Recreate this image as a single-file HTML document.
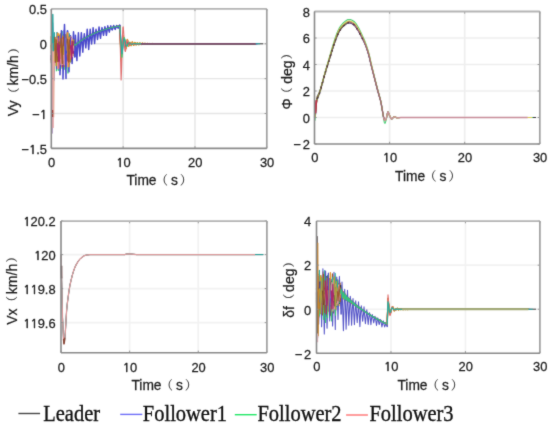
<!DOCTYPE html>
<html><head><meta charset="utf-8"><title>Vehicle platoon response</title>
<style>html,body{margin:0;padding:0;background:#fff;overflow:hidden;} svg{display:block;}</style>
</head><body>
<svg width="550" height="428" viewBox="0 0 550 428"><defs><filter id="soft" x="0" y="0" width="1" height="1" color-interpolation-filters="sRGB"><feConvolveMatrix order="3" kernelMatrix="0.02 0.08 0.02 0.08 0.6 0.08 0.02 0.08 0.02" edgeMode="duplicate"/></filter></defs><g filter="url(#soft)"><rect width="550" height="428" fill="#ffffff"/>
<line x1="123.13" y1="8.95" x2="123.13" y2="148.35" stroke="#e5e5e5" stroke-width="1.4"/>
<line x1="194.97" y1="8.95" x2="194.97" y2="148.35" stroke="#e5e5e5" stroke-width="1.4"/>
<line x1="51.30" y1="113.50" x2="266.80" y2="113.50" stroke="#e5e5e5" stroke-width="1.4"/>
<line x1="51.30" y1="78.65" x2="266.80" y2="78.65" stroke="#e5e5e5" stroke-width="1.4"/>
<line x1="51.30" y1="43.80" x2="266.80" y2="43.80" stroke="#e5e5e5" stroke-width="1.4"/>
<line x1="389.60" y1="11.50" x2="389.60" y2="144.00" stroke="#eeeeee" stroke-width="1.7"/>
<line x1="464.70" y1="11.50" x2="464.70" y2="144.00" stroke="#eeeeee" stroke-width="1.7"/>
<line x1="314.50" y1="117.50" x2="539.80" y2="117.50" stroke="#eeeeee" stroke-width="1.7"/>
<line x1="314.50" y1="91.00" x2="539.80" y2="91.00" stroke="#eeeeee" stroke-width="1.7"/>
<line x1="314.50" y1="64.50" x2="539.80" y2="64.50" stroke="#eeeeee" stroke-width="1.7"/>
<line x1="314.50" y1="38.00" x2="539.80" y2="38.00" stroke="#eeeeee" stroke-width="1.7"/>
<line x1="129.63" y1="221.10" x2="129.63" y2="352.80" stroke="#f2f2f2" stroke-width="1.7"/>
<line x1="198.27" y1="221.10" x2="198.27" y2="352.80" stroke="#f2f2f2" stroke-width="1.7"/>
<line x1="61.00" y1="322.60" x2="266.90" y2="322.60" stroke="#f2f2f2" stroke-width="1.7"/>
<line x1="61.00" y1="288.60" x2="266.90" y2="288.60" stroke="#f2f2f2" stroke-width="1.7"/>
<line x1="61.00" y1="254.60" x2="266.90" y2="254.60" stroke="#f2f2f2" stroke-width="1.7"/>
<line x1="390.97" y1="221.10" x2="390.97" y2="353.30" stroke="#f2f2f2" stroke-width="1.7"/>
<line x1="465.43" y1="221.10" x2="465.43" y2="353.30" stroke="#f2f2f2" stroke-width="1.7"/>
<line x1="316.50" y1="309.23" x2="539.90" y2="309.23" stroke="#f2f2f2" stroke-width="1.7"/>
<line x1="316.50" y1="265.17" x2="539.90" y2="265.17" stroke="#f2f2f2" stroke-width="1.7"/>
<polyline points="51.3,59.7 52.3,45.7 52.4,40.6 53.5,64.7 54.6,40.8 54.7,46.0 55.8,59.5 56.8,45.1 56.9,36.6 57.9,67.5 58.0,58.5 59.1,45.3 60.2,59.3 60.3,67.3 61.3,36.0 61.4,40.5 62.4,65.0 62.5,61.1 63.5,42.0 63.6,42.0 64.7,65.8 65.7,40.5 66.8,60.2 67.9,45.4 68.0,37.7 69.1,64.3 70.2,40.2 71.4,59.0 72.4,39.8 72.8,44.8 73.6,53.8 74.7,40.2 74.7,43.2 75.1,45.1" fill="none" stroke="#3c3c3c" stroke-width="1.0" stroke-linejoin="round"/>
<polyline points="51.3,49.4 51.5,44.1 51.6,48.9 52.4,66.3 52.5,70.6 53.5,42.6 54.4,72.3 55.4,46.0 56.4,71.2 57.3,44.2 58.3,70.8 59.3,46.8 60.3,71.0 61.1,46.2 61.2,51.2 62.2,64.0 62.2,68.9 63.2,45.2 64.1,69.8 65.1,46.4 66.0,68.7 66.1,64.9 67.0,50.1 67.1,46.0 68.0,73.4 68.9,44.0 69.0,48.3 70.0,62.8 71.0,42.7 71.8,60.2 72.8,44.3 72.8,44.0 73.5,49.6 73.9,52.3 74.7,41.9 74.8,43.9 75.0,45.5 75.1,45.2" fill="none" stroke="#3ad070" stroke-width="0.9" stroke-linejoin="round"/>
<polyline points="51.3,47.3 51.9,31.6 53.1,63.1 53.2,63.0 54.4,32.4 54.5,39.6 55.6,56.4 56.9,41.1 57.0,32.1 58.1,63.3 59.4,35.3 59.5,42.0 60.7,54.3 60.8,62.9 62.0,30.9 63.2,65.3 63.3,56.7 64.4,39.4 64.5,32.4 65.7,63.0 65.8,54.7 66.9,41.7 67.0,36.5 68.2,58.6 68.3,63.0 69.5,33.6 69.6,38.8 70.8,56.2 72.0,39.1 72.1,42.2 73.2,49.5 73.3,53.7 73.9,46.0 74.5,40.3 75.0,44.8 75.1,44.6" fill="none" stroke="#2aa8a0" stroke-width="1.0" stroke-linejoin="round"/>
<polyline points="51.3,59.7 52.3,38.1 52.4,22.7 53.9,80.2 54.0,65.8 54.6,54.2" fill="none" stroke="#4a4acc" stroke-width="1.5" stroke-linejoin="round"/>
<polyline points="51.3,55.0 51.6,59.9 51.7,63.4 52.6,46.0 53.5,61.8 54.4,46.1 54.6,49.4" fill="none" stroke="#a8286e" stroke-width="1.5" stroke-linejoin="round"/>
<polyline points="51.3,36.1 52.2,65.1 52.3,60.5 53.3,41.5 53.4,44.3 54.3,56.8 54.4,63.3 54.6,59.0" fill="none" stroke="#b0a02a" stroke-width="1.62" stroke-linejoin="round"/>
<polyline points="51.3,44.8 52.1,59.8 52.2,56.4 53.3,42.3 53.4,39.9 54.6,61.3" fill="none" stroke="#e0962e" stroke-width="1.62" stroke-linejoin="round"/>
<polyline points="51.3,59.9 52.0,44.5 52.9,60.6 53.6,44.5 53.7,38.0 54.6,65.8" fill="none" stroke="#e49aa8" stroke-width="1.5" stroke-linejoin="round"/>
<polyline points="51.3,58.8 51.5,62.8 51.6,58.0 52.5,43.6 53.6,56.7 53.7,64.0 54.6,39.9" fill="none" stroke="#9a5a32" stroke-width="1.5" stroke-linejoin="round"/>
<polyline points="51.3,53.3 52.2,43.2 52.2,39.6 53.5,62.3 54.6,44.0" fill="none" stroke="#e07070" stroke-width="1.38" stroke-linejoin="round"/>
<polyline points="54.5,45.4 54.8,39.6 54.9,44.5 56.2,57.7 57.4,44.1 57.5,33.2 57.9,42.5" fill="none" stroke="#e07070" stroke-width="1.38" stroke-linejoin="round"/>
<polyline points="54.5,55.8 55.4,37.9 57.0,68.8 57.9,48.5" fill="none" stroke="#4a4acc" stroke-width="1.5" stroke-linejoin="round"/>
<polyline points="54.5,59.6 54.6,61.3 55.6,37.5 55.7,42.9 56.8,55.4 56.9,65.1 57.9,38.5" fill="none" stroke="#e0962e" stroke-width="1.62" stroke-linejoin="round"/>
<polyline points="54.5,64.7 54.6,65.8 55.4,37.7 56.1,62.5 57.0,43.2 57.1,38.0 57.9,68.4" fill="none" stroke="#e49aa8" stroke-width="1.5" stroke-linejoin="round"/>
<polyline points="54.5,47.8 55.3,62.2 56.2,44.5 57.1,64.5 57.9,46.0" fill="none" stroke="#a8286e" stroke-width="1.5" stroke-linejoin="round"/>
<polyline points="54.5,61.2 55.4,39.5 55.4,42.9 56.4,57.6 56.5,65.4 57.5,36.0 57.6,42.1 57.9,47.2" fill="none" stroke="#b0a02a" stroke-width="1.62" stroke-linejoin="round"/>
<polyline points="54.5,42.4 54.7,37.5 55.8,61.3 56.9,40.1 57.9,59.7" fill="none" stroke="#9a5a32" stroke-width="1.5" stroke-linejoin="round"/>
<polyline points="57.7,62.1 57.9,68.4 58.6,37.2 58.7,42.3 59.5,63.1 60.4,40.1 61.0,61.9" fill="none" stroke="#e49aa8" stroke-width="1.5" stroke-linejoin="round"/>
<polyline points="57.7,43.8 58.5,61.0 58.6,60.7 59.7,35.3 60.6,67.8 61.0,54.1" fill="none" stroke="#b0a02a" stroke-width="1.62" stroke-linejoin="round"/>
<polyline points="57.7,43.3 58.0,33.6 58.1,34.5 59.2,65.5 59.3,55.4 60.4,43.4 60.4,33.9 61.0,50.0" fill="none" stroke="#e0962e" stroke-width="1.62" stroke-linejoin="round"/>
<polyline points="57.7,52.6 58.4,36.4 58.5,36.9 59.9,66.7 60.0,74.7 61.0,41.7" fill="none" stroke="#4a4acc" stroke-width="1.5" stroke-linejoin="round"/>
<polyline points="57.7,37.8 58.8,68.1 58.9,63.9 60.1,37.5 61.0,54.7" fill="none" stroke="#e07070" stroke-width="1.38" stroke-linejoin="round"/>
<polyline points="57.7,56.1 57.9,61.4 59.0,41.9 59.1,44.4 60.2,58.2 61.0,44.7" fill="none" stroke="#9a5a32" stroke-width="1.5" stroke-linejoin="round"/>
<polyline points="57.7,50.5 57.9,43.8 58.0,49.7 58.8,58.4 58.9,61.3 59.8,45.2 60.6,63.1 60.7,59.6 61.0,55.3" fill="none" stroke="#a8286e" stroke-width="1.5" stroke-linejoin="round"/>
<polyline points="61.0,56.7 61.6,36.1 61.7,36.2 62.7,65.9 63.8,34.7 64.3,52.0" fill="none" stroke="#b0a02a" stroke-width="1.62" stroke-linejoin="round"/>
<polyline points="61.0,44.5 61.4,30.7 61.5,39.2 62.9,64.5 63.0,79.0 64.3,29.9" fill="none" stroke="#4a4acc" stroke-width="1.5" stroke-linejoin="round"/>
<polyline points="61.0,56.4 61.6,48.8 61.6,42.6 62.4,66.6 63.3,44.2 63.4,49.0 64.2,59.1 64.3,63.2" fill="none" stroke="#a8286e" stroke-width="1.5" stroke-linejoin="round"/>
<polyline points="61.0,47.7 61.6,63.7 61.6,57.4 62.8,41.3 62.9,36.2 64.0,63.6 64.1,56.5 64.3,52.9" fill="none" stroke="#e0962e" stroke-width="1.62" stroke-linejoin="round"/>
<polyline points="61.0,53.2 61.6,63.0 62.8,37.8 62.9,41.8 64.1,60.6 64.3,58.0" fill="none" stroke="#e07070" stroke-width="1.38" stroke-linejoin="round"/>
<polyline points="61.0,59.1 61.1,64.6 61.2,64.1 62.0,39.5 62.8,64.2 63.6,41.1 64.3,59.6" fill="none" stroke="#e49aa8" stroke-width="1.5" stroke-linejoin="round"/>
<polyline points="61.0,46.0 61.2,38.6 62.3,63.5 63.4,37.1 64.3,62.1" fill="none" stroke="#9a5a32" stroke-width="1.5" stroke-linejoin="round"/>
<polyline points="64.1,55.3 65.1,42.2 65.2,35.1 66.4,66.0 67.5,32.7" fill="none" stroke="#e0962e" stroke-width="1.62" stroke-linejoin="round"/>
<polyline points="64.1,57.6 64.4,64.4 64.5,63.8 65.4,37.7 65.5,45.4 66.6,56.2 66.6,62.0 67.5,41.6" fill="none" stroke="#9a5a32" stroke-width="1.5" stroke-linejoin="round"/>
<polyline points="64.1,58.0 64.3,63.2 65.2,44.2 66.0,64.2 66.1,58.5 67.0,48.2 67.5,55.7" fill="none" stroke="#a8286e" stroke-width="1.5" stroke-linejoin="round"/>
<polyline points="64.1,46.3 64.7,66.5 64.8,56.9 65.8,45.0 65.9,34.8 66.8,65.5 66.9,61.3 67.5,48.6" fill="none" stroke="#b0a02a" stroke-width="1.62" stroke-linejoin="round"/>
<polyline points="64.1,60.6 65.4,41.3 65.5,44.2 66.7,57.3 66.8,57.5 67.5,50.3" fill="none" stroke="#e07070" stroke-width="1.38" stroke-linejoin="round"/>
<polyline points="64.1,55.0 64.5,64.4 65.4,38.6 66.0,66.1 66.1,58.4 66.9,46.0 67.5,55.0" fill="none" stroke="#e49aa8" stroke-width="1.5" stroke-linejoin="round"/>
<polyline points="64.1,36.5 64.5,24.5 66.0,78.6 66.0,62.3 67.4,42.5 67.5,30.8" fill="none" stroke="#4a4acc" stroke-width="1.5" stroke-linejoin="round"/>
<polyline points="67.4,51.2 68.1,44.0 68.2,36.6 69.1,56.4 69.5,63.5 70.8,36.9" fill="none" stroke="#e07070" stroke-width="1.38" stroke-linejoin="round"/>
<polyline points="67.4,42.5 67.5,30.8 69.0,71.7 69.1,63.4 70.4,39.7 70.5,35.7 70.8,40.5" fill="none" stroke="#4a4acc" stroke-width="1.5" stroke-linejoin="round"/>
<polyline points="67.4,50.4 67.9,41.4 67.9,41.9 68.9,57.9 69.0,62.3 70.1,37.3 70.8,55.3" fill="none" stroke="#b0a02a" stroke-width="1.62" stroke-linejoin="round"/>
<polyline points="67.4,53.5 67.7,57.9 67.8,66.6 68.5,38.9 69.5,61.9 70.2,39.8 70.8,52.8" fill="none" stroke="#e49aa8" stroke-width="1.5" stroke-linejoin="round"/>
<polyline points="67.4,54.4 67.9,60.7 68.8,45.9 69.7,61.4 70.5,44.2 70.8,47.9" fill="none" stroke="#a8286e" stroke-width="1.5" stroke-linejoin="round"/>
<polyline points="67.4,35.3 67.5,32.7 67.6,33.1 68.7,66.6 68.8,61.2 69.8,38.0 69.9,41.6 70.8,50.9" fill="none" stroke="#e0962e" stroke-width="1.62" stroke-linejoin="round"/>
<polyline points="67.4,43.6 67.7,39.2 68.7,62.0 69.8,40.0 70.8,56.0" fill="none" stroke="#9a5a32" stroke-width="1.5" stroke-linejoin="round"/>
<polyline points="70.6,53.4 70.9,57.2 71.0,53.1 71.9,44.3 72.0,40.9 72.7,49.4 73.1,52.8 74.0,42.3" fill="none" stroke="#9a5a32" stroke-width="1.5" stroke-linejoin="round"/>
<polyline points="70.6,51.2 71.0,61.2 71.1,54.9 72.1,41.7 72.2,38.8 73.1,55.2 73.2,52.0 74.0,43.3" fill="none" stroke="#b0a02a" stroke-width="1.62" stroke-linejoin="round"/>
<polyline points="70.6,39.9 70.8,36.9 70.9,44.7 72.1,51.6 72.2,53.5 73.4,42.4 74.0,45.6" fill="none" stroke="#e07070" stroke-width="1.38" stroke-linejoin="round"/>
<polyline points="70.6,37.4 72.1,63.4 73.5,31.8 74.0,40.2" fill="none" stroke="#4a4acc" stroke-width="1.5" stroke-linejoin="round"/>
<polyline points="70.6,49.1 71.0,58.0 71.8,42.7 71.9,38.3 72.7,56.4 72.8,52.6 73.5,40.8 74.0,46.7" fill="none" stroke="#e49aa8" stroke-width="1.5" stroke-linejoin="round"/>
<polyline points="70.6,49.3 71.0,53.3 71.1,55.3 72.2,40.9 72.8,46.5 73.5,50.8 73.5,53.3 74.0,47.1" fill="none" stroke="#e0962e" stroke-width="1.62" stroke-linejoin="round"/>
<polyline points="70.6,45.3 71.4,55.7 71.5,58.8 72.3,41.5 73.2,53.3 74.0,44.6" fill="none" stroke="#a8286e" stroke-width="1.5" stroke-linejoin="round"/>
<polyline points="73.9,38.6 74.9,57.1 75.1,42.2" fill="none" stroke="#4a4acc" stroke-width="1.5" stroke-linejoin="round"/>
<polyline points="73.9,45.3 74.7,47.9 74.8,48.9 75.0,45.9 75.1,46.0" fill="none" stroke="#e07070" stroke-width="1.38" stroke-linejoin="round"/>
<polyline points="73.9,48.2 74.6,40.3 74.7,42.3 74.9,43.8 75.0,46.2 75.1,46.0" fill="none" stroke="#e0962e" stroke-width="1.62" stroke-linejoin="round"/>
<polyline points="73.9,44.1 74.2,39.9 74.9,47.8 75.1,44.7" fill="none" stroke="#b0a02a" stroke-width="1.62" stroke-linejoin="round"/>
<polyline points="73.9,45.4 74.1,43.9 74.1,43.9 74.9,47.0 75.1,45.3" fill="none" stroke="#a8286e" stroke-width="1.5" stroke-linejoin="round"/>
<polyline points="73.9,43.2 74.1,41.5 74.1,44.0 74.9,46.3 75.1,46.0" fill="none" stroke="#9a5a32" stroke-width="1.5" stroke-linejoin="round"/>
<polyline points="73.9,45.6 74.3,50.5 74.9,44.2 75.0,45.0 75.1,44.8" fill="none" stroke="#e49aa8" stroke-width="1.5" stroke-linejoin="round"/>
<polyline points="74.9,44.0 75.0,45.0 75.8,45.5 76.9,43.1 78.0,43.6 79.1,41.5 80.3,41.8 81.4,40.0 82.5,40.1 83.5,38.7 84.7,38.7 85.8,37.4 86.9,37.3 88.0,36.2 89.1,36.0 90.3,35.0 91.4,34.9 92.5,34.0 93.6,33.8 94.7,33.0 95.9,32.8 97.0,32.1 98.0,31.9 99.1,31.3 100.3,31.1 101.4,30.5 102.5,30.3 103.6,29.8 110.3,28.0 119.2,26.1 119.8,26.0 119.9,26.3" fill="none" stroke="#3c3c3c" stroke-width="1.0" stroke-linejoin="round"/>
<polyline points="74.9,48.3 75.0,45.9 75.3,45.9 76.6,43.4 77.8,43.7 79.2,41.5 80.5,41.6 81.9,39.7 83.2,39.7 84.5,38.1 85.9,37.9 87.2,36.6 88.5,36.4 89.8,35.3 91.1,35.0 92.5,34.0 93.8,33.7 95.2,32.9 96.5,32.6 97.8,31.8 99.1,31.5 100.4,30.9 101.8,30.5 103.1,30.0 104.5,29.7 105.8,29.2 111.1,27.8 119.1,26.1 119.8,26.0 119.9,26.6" fill="none" stroke="#e07070" stroke-width="1.1" stroke-linejoin="round"/>
<polyline points="74.9,47.0 75.0,45.5 75.5,44.2 76.5,44.8 77.3,42.8 78.2,43.4 79.1,41.5 80.0,41.9 81.0,40.3 81.8,40.6 82.8,39.2 83.6,39.4 84.5,38.1 85.4,38.2 86.3,37.1 87.2,37.1 88.1,36.1 89.0,36.1 89.9,35.2 90.8,35.2 91.7,34.4 92.6,34.3 93.5,33.6 94.4,33.4 95.3,32.8 96.2,32.7 97.1,32.1 98.0,31.9 98.9,31.4 99.7,31.3 100.7,30.8 101.6,30.6 102.5,30.2 103.4,30.0 106.0,29.1 111.5,27.7 116.8,26.5 119.8,26.0 119.9,26.3" fill="none" stroke="#a8286e" stroke-width="1.2" stroke-linejoin="round"/>
<polyline points="74.9,46.3 76.0,43.8 76.1,43.7 77.2,44.3 78.2,42.2 78.3,42.2 79.3,42.5 80.3,40.7 81.5,40.9 82.6,39.3 83.6,39.4 84.7,38.0 85.8,38.0 86.8,36.8 87.9,36.7 89.0,35.7 90.1,35.5 91.1,34.6 92.2,34.5 93.3,33.7 94.4,33.4 95.4,32.8 96.6,32.5 97.6,31.9 98.7,31.7 99.7,31.1 100.9,30.9 101.9,30.4 103.0,30.1 104.1,29.7 105.2,29.4 106.3,29.0 110.6,27.9 117.0,26.5 119.8,26.0 119.9,26.3" fill="none" stroke="#9a5a32" stroke-width="1.2" stroke-linejoin="round"/>
<polyline points="74.9,44.2 75.0,45.0 75.3,44.3 76.0,45.2 76.9,43.1 77.8,43.7 78.5,42.0 79.4,42.4 80.2,40.9 81.0,41.2 81.8,39.8 81.9,39.7 82.7,40.0 83.5,38.7 84.3,38.9 85.2,37.7 86.0,37.9 86.8,36.8 87.7,36.8 88.5,36.0 89.3,35.9 90.1,35.1 91.0,35.1 91.8,34.3 92.6,34.3 93.5,33.6 94.2,33.5 95.1,32.9 95.9,32.8 96.7,32.2 97.6,32.1 98.4,31.6 99.2,31.5 100.0,31.0 100.9,30.9 101.6,30.5 102.5,30.3 103.4,29.9 109.9,28.1 114.9,26.9 119.8,26.0 119.9,26.3" fill="none" stroke="#e49aa8" stroke-width="1.2" stroke-linejoin="round"/>
<polyline points="74.9,43.8 75.0,46.2 76.2,43.6 77.3,44.1 78.5,41.9 79.7,42.2 81.0,40.3 82.1,40.4 83.3,38.8 84.5,38.8 85.7,37.4 86.8,37.3 88.0,36.2 89.2,36.0 90.4,35.0 91.6,34.8 92.8,33.9 94.0,33.6 95.2,32.9 96.3,32.6 97.5,31.9 98.7,31.7 99.9,31.0 101.0,30.8 102.2,30.3 109.4,28.2 114.1,27.1 118.9,26.1 119.8,26.0 119.9,26.4" fill="none" stroke="#e0962e" stroke-width="1.3" stroke-linejoin="round"/>
<polyline points="74.9,47.8 75.0,44.9 75.3,44.3 76.3,45.0 77.3,42.8 78.4,43.3 79.4,41.4 80.4,41.6 81.5,40.0 82.5,40.1 83.6,38.7 84.7,38.7 85.7,37.4 86.7,37.4 87.8,36.3 88.8,36.2 89.8,35.3 90.9,35.1 91.9,34.3 92.9,34.1 94.0,33.4 95.0,33.2 96.1,32.5 97.2,32.3 98.2,31.7 99.2,31.5 100.3,30.9 101.3,30.7 102.3,30.2 103.4,30.0 104.4,29.6 108.6,28.4 114.8,26.9 119.8,26.0 119.9,26.3" fill="none" stroke="#b0a02a" stroke-width="1.3" stroke-linejoin="round"/>
<polyline points="74.9,44.0 75.0,44.8 75.2,44.4 76.5,44.8 77.7,42.6 79.0,42.8 80.2,40.8 81.5,40.9 82.8,39.2 84.0,39.1 85.3,37.7 86.5,37.6 87.8,36.3 89.0,36.1 90.3,35.0 91.6,34.8 92.8,33.9 94.1,33.6 95.3,32.8 96.6,32.5 97.8,31.8 99.1,31.5 100.3,30.9 101.6,30.6 102.8,30.1 104.1,29.8 105.3,29.3 107.8,28.6 115.4,26.8 119.8,26.0 119.9,26.2" fill="none" stroke="#2aa8a0" stroke-width="1.0" stroke-linejoin="round"/>
<polyline points="74.9,57.1 75.0,44.0 75.4,35.1 76.9,60.6 78.4,32.6 79.2,48.3 79.3,48.4 79.8,56.0 81.3,32.8 81.4,32.7 82.2,44.7 82.8,52.2 83.7,39.5 84.3,33.8 85.8,47.9 86.6,38.4 87.2,29.1 88.7,49.5 90.2,29.1 91.0,38.9 91.6,44.0 92.6,34.3 93.1,27.6 94.6,43.5 95.5,33.0 96.0,29.3 96.9,34.3 97.5,39.5 98.5,32.1 99.0,27.0 99.1,27.0 99.8,33.9 100.5,38.3 101.4,31.0 102.0,27.6 103.5,35.3 104.9,26.7 105.8,31.1 106.4,35.3 107.8,25.8 108.7,30.2 108.8,30.2 109.3,32.2 110.8,25.8 111.6,29.0 111.7,28.8 112.2,30.1 113.2,27.4 113.7,25.4 114.6,28.1 115.2,29.4 116.6,25.5 116.7,25.5 118.1,28.2 118.2,28.2 119.6,25.0 119.7,24.9 119.8,25.3 119.9,26.2" fill="none" stroke="#4a4acc" stroke-width="1.44" stroke-linejoin="round"/>
<polyline points="74.9,44.1 75.0,45.5 75.5,44.2 76.5,44.8 77.5,42.7 78.5,43.2 79.4,41.4 80.3,41.7 81.4,40.0 82.3,40.3 83.3,38.9 84.2,38.9 85.3,37.7 86.2,37.7 87.2,36.6 88.1,36.6 89.1,35.6 90.1,35.5 91.0,34.7 92.0,34.6 93.0,33.8 94.0,33.6 94.9,33.0 95.9,32.8 96.9,32.2 97.8,32.0 98.8,31.4 99.7,31.3 100.8,30.7 101.7,30.6 102.7,30.1 103.6,29.9 104.7,29.5 108.5,28.4 116.3,26.6 119.8,26.0 119.9,26.2" fill="none" stroke="#3ad070" stroke-width="0.9" stroke-linejoin="round"/>
<polyline points="119.8,26.0 121.1,52.2 121.5,50.3 122.5,41.7 122.8,40.5 123.1,39.9 123.3,40.0 123.5,40.6 124.7,44.8 124.9,45.3 125.3,45.6 125.7,45.3 126.8,43.4 127.4,43.0 127.8,43.1 129.0,44.0 129.6,44.2 131.7,43.6 133.9,43.9 136.0,43.8 263.2,43.8" fill="none" stroke="#3c3c3c" stroke-width="1.0" stroke-linejoin="round"/>
<polyline points="119.8,25.3 121.9,54.7 122.3,51.7 123.4,41.5 123.8,39.1 124.1,38.5 124.4,38.8 124.7,39.5 125.9,45.1 126.3,45.9 126.6,46.2 126.9,46.1 127.2,45.8 128.4,43.2 128.8,42.8 129.1,42.7 129.7,42.9 131.0,44.1 131.7,44.3 133.5,43.7 134.2,43.6 136.7,43.9 139.2,43.8 257.4,43.8" fill="none" stroke="#4a4acc" stroke-width="1.2" stroke-linejoin="round"/>
<polyline points="119.8,26.0 121.1,59.1 121.5,55.6 122.5,39.9 122.8,37.7 122.9,36.9 123.1,36.6 123.3,36.8 123.5,37.9 124.7,46.0 125.0,46.8 125.3,47.1 125.3,46.1 125.6,47.7 125.9,48.5 126.0,48.4 126.2,47.6 127.0,41.0 127.3,39.7 127.5,39.9 127.7,40.6 128.4,45.3 128.5,45.9 128.7,46.1 129.0,45.6 129.6,42.9 129.8,42.3 130.0,42.4 130.2,42.8 130.9,45.3 131.1,45.5 131.4,45.0 132.1,42.3 132.3,42.0 132.6,42.3 133.3,44.8 133.6,45.4 134.0,44.9 134.7,42.8 134.9,42.5 135.2,42.8 135.9,44.6 136.1,44.9 136.5,44.6 137.2,42.9 137.4,42.8 137.7,43.0 138.4,44.5 138.6,44.7 138.9,44.6 139.6,43.3 139.9,43.0 140.3,43.3 140.9,44.3 141.2,44.5 141.5,44.3 142.2,43.3 142.4,43.2 142.8,43.4 143.4,44.2 143.7,44.4 144.0,44.2 144.7,43.4 144.9,43.3 145.2,43.4 145.9,44.1 146.2,44.3 147.4,43.4 147.7,43.5 148.4,44.0 148.7,44.2 150.0,43.5 151.2,44.1 152.5,43.5 153.7,44.0 155.0,43.6 156.3,44.0 157.5,43.6 158.8,43.9 160.0,43.7 161.3,43.9 162.5,43.7 163.8,43.9 165.1,43.7 166.3,43.9 167.6,43.7 168.8,43.9 170.1,43.8 171.4,43.8 172.6,43.8 255.9,43.8" fill="none" stroke="#b0a02a" stroke-width="1.3" stroke-linejoin="round"/>
<polyline points="119.8,26.0 121.1,57.7 121.5,54.6 122.5,40.2 122.8,38.2 122.9,37.5 123.1,37.3 123.3,37.5 123.5,38.4 124.7,45.4 124.9,46.3 125.3,46.8 125.7,46.2 126.8,43.1 127.1,42.7 127.4,42.5 127.8,42.7 129.0,44.1 129.6,44.4 130.0,44.3 131.1,43.6 131.7,43.5 133.9,43.9 136.0,43.7 138.2,43.8 255.9,43.8" fill="none" stroke="#9a5a32" stroke-width="1.2" stroke-linejoin="round"/>
<polyline points="119.8,26.0 121.1,57.7 121.5,54.6 122.5,40.2 122.8,38.2 122.9,37.5 123.1,37.3 123.3,37.5 123.5,38.4 124.7,45.4 124.9,46.3 125.3,46.8 125.7,46.2 126.8,43.1 127.1,42.7 127.4,42.5 127.8,42.7 129.0,44.1 129.6,44.4 130.0,44.3 131.1,43.6 131.7,43.5 133.9,43.9 136.0,43.7 138.2,43.8 255.9,43.8" fill="none" stroke="#e49aa8" stroke-width="1.2" stroke-linejoin="round"/>
<polyline points="119.8,26.0 121.1,61.2 121.5,57.3 122.5,39.3 122.8,36.8 122.9,35.9 123.1,35.6 123.3,35.9 123.5,37.1 124.7,46.3 125.2,47.5 125.3,47.5 125.3,46.5 125.6,48.1 125.9,48.8 126.0,48.6 126.2,47.8 127.0,40.9 127.3,39.5 127.5,39.7 127.7,40.5 128.4,45.2 128.5,45.9 128.7,46.1 129.0,45.6 129.6,43.0 129.8,42.4 130.0,42.5 130.2,42.8 130.9,45.3 131.1,45.5 131.4,45.0 132.1,42.3 132.3,41.9 132.6,42.2 133.3,44.8 133.6,45.4 134.0,44.9 134.7,42.8 134.9,42.5 135.2,42.8 135.9,44.6 136.1,44.9 136.5,44.5 137.2,42.9 137.4,42.8 137.7,43.0 138.4,44.5 138.6,44.7 138.9,44.6 139.6,43.3 139.9,43.0 140.3,43.3 140.9,44.3 141.2,44.5 141.5,44.3 142.2,43.3 142.4,43.2 142.8,43.4 143.4,44.2 143.7,44.4 144.0,44.2 144.7,43.4 144.9,43.3 145.2,43.4 145.9,44.1 146.2,44.3 147.4,43.4 147.7,43.5 148.4,44.0 148.7,44.2 150.0,43.5 151.2,44.1 152.5,43.5 153.7,44.0 155.0,43.6 156.3,44.0 157.5,43.6 158.8,43.9 160.0,43.7 161.3,43.9 162.5,43.7 163.8,43.9 165.1,43.7 166.3,43.9 167.6,43.7 168.8,43.9 170.1,43.8 171.4,43.8 172.6,43.8 255.9,43.8" fill="none" stroke="#e0962e" stroke-width="1.3" stroke-linejoin="round"/>
<polyline points="119.8,26.0 121.1,56.3 121.5,53.5 122.5,40.6 122.8,38.8 122.9,38.1 123.1,37.9 123.3,38.1 123.5,39.0 124.7,45.3 124.9,46.1 125.3,46.5 125.7,46.0 126.8,43.1 127.1,42.8 127.4,42.6 127.8,42.8 129.0,44.1 129.6,44.4 130.0,44.3 131.1,43.7 131.7,43.6 133.9,43.9 136.0,43.7 255.9,43.8" fill="none" stroke="#a8286e" stroke-width="1.2" stroke-linejoin="round"/>
<polyline points="119.8,26.0 121.1,80.0 121.5,71.8 122.5,34.5 122.8,29.3 122.9,27.4 123.1,26.8 123.3,27.3 123.5,29.9 124.7,48.0 124.9,50.4 125.1,51.2 125.3,51.5 125.4,51.3 125.7,50.1 126.8,41.9 127.1,40.8 127.4,40.3 127.6,40.4 127.8,40.9 129.0,44.7 129.2,45.2 129.6,45.4 130.0,45.1 131.1,43.4 131.7,43.1 132.2,43.2 133.3,44.0 133.9,44.1 136.0,43.7 138.2,43.9 140.3,43.8 255.9,43.8" fill="none" stroke="#e07070" stroke-width="1.1" stroke-linejoin="round"/>
<polyline points="119.8,26.0 121.9,57.5 122.3,53.6 123.4,41.0 123.8,38.0 124.1,37.2 124.4,37.5 124.7,38.4 125.9,45.4 126.3,46.4 126.6,46.8 126.9,46.7 127.2,46.3 128.4,43.1 128.8,42.6 129.1,42.4 129.7,42.6 131.0,44.2 131.7,44.4 132.2,44.3 133.5,43.6 134.2,43.5 136.7,43.9 139.2,43.7 141.7,43.8 255.9,43.8" fill="none" stroke="#3ad070" stroke-width="0.9" stroke-linejoin="round"/>
<polyline points="119.8,26.0 121.9,54.0 122.3,51.2 123.4,41.7 123.8,39.4 124.1,38.9 124.4,39.1 124.7,39.7 125.9,45.0 126.3,45.8 126.6,46.1 126.9,46.0 127.2,45.7 128.4,43.3 128.8,42.9 129.1,42.8 129.7,42.9 131.0,44.1 131.7,44.3 133.5,43.7 134.2,43.6 136.7,43.9 139.2,43.8 259.9,43.8" fill="none" stroke="#2aa8a0" stroke-width="1.0" stroke-linejoin="round"/>
<polyline points="141.1,43.8 255.7,43.8" fill="none" stroke="#7a4a6a" stroke-width="1.7" stroke-linejoin="round"/>
<polyline points="52.2,50.8 52.3,133.0 52.7,57.7" fill="none" stroke="#b8a0c8" stroke-width="1.3" stroke-linejoin="round"/>
<polyline points="52.9,43.8 53.0,127.4 53.5,50.8" fill="none" stroke="#e6a0a0" stroke-width="1.5" stroke-linejoin="round"/>
<polyline points="53.6,50.8 53.7,117.0 54.2,64.7" fill="none" stroke="#e8b0a0" stroke-width="1.2" stroke-linejoin="round"/>
<polyline points="52.6,110.0 52.6,117.0" fill="none" stroke="#a04040" stroke-width="1.2" stroke-linejoin="round"/>
<polyline points="52.5,43.8 52.8,14.5 53.2,50.8 53.6,36.8" fill="none" stroke="#2aa8a0" stroke-width="1.4" stroke-linejoin="round"/>
<polyline points="314.5,115.3 314.7,114.9 314.8,115.3 315.1,117.0 315.3,116.9 315.6,113.3 316.0,104.5 316.3,101.0 316.6,99.1 316.8,98.9 317.2,99.3 317.4,99.2 317.5,98.8 318.4,94.1 318.6,93.9 318.7,93.9 319.2,94.2 319.5,93.6 320.2,89.9 321.3,87.5 322.2,83.2 323.1,80.7 324.1,76.2 324.9,74.1 325.9,70.2 326.8,67.6 333.3,46.5 335.4,40.3 337.2,35.8 338.7,32.4 339.6,30.8 341.1,28.7 343.2,26.3 346.0,24.1 347.8,23.0 349.2,22.8 350.1,22.9 351.0,23.2 353.6,24.6 354.6,25.5 355.8,27.0 358.7,31.4 360.6,35.0 364.2,42.1 366.2,46.9 367.5,50.9 368.9,55.4 371.1,64.9 374.6,78.6 377.7,90.5 380.4,100.0 381.2,103.6 383.4,116.5 384.2,119.4 384.5,120.1 384.8,120.5 385.1,120.5 385.4,120.3 386.3,118.7 387.5,112.9 387.8,112.1 387.9,111.9 388.2,112.2 388.5,112.7 389.4,115.2 390.8,118.2 391.3,118.8 391.6,119.0 392.2,118.7 393.5,117.1 394.1,116.8 394.7,116.9 396.4,117.6 397.1,117.8 400.9,117.5 535.9,117.5" fill="none" stroke="#3e3ec4" stroke-width="1.1" stroke-linejoin="round"/>
<polyline points="314.5,115.3 314.7,114.9 314.8,115.3 315.1,117.0 315.3,116.9 315.6,113.3 316.0,104.5 316.3,101.0 316.6,99.1 316.8,98.9 317.2,99.3 317.4,99.2 317.5,98.8 318.4,94.1 318.6,93.9 318.7,93.9 319.2,94.2 319.5,93.6 320.2,89.9 321.3,87.5 322.2,83.1 323.1,80.7 324.1,76.1 324.9,74.1 325.9,70.1 326.8,67.6 333.3,46.4 335.4,40.2 337.2,35.6 338.7,32.2 339.6,30.6 341.1,28.5 343.2,26.1 346.0,23.9 347.8,22.8 349.2,22.5 350.1,22.6 351.0,22.9 353.6,24.3 354.6,25.3 355.8,26.8 358.7,31.2 360.6,34.8 364.2,42.0 366.2,46.8 367.5,50.8 368.9,55.3 371.1,64.9 374.6,78.6 377.7,90.5 380.4,100.0 381.2,103.6 383.4,116.5 384.2,119.4 384.5,120.1 384.8,120.5 385.1,120.5 385.4,120.3 386.3,118.7 387.5,112.9 387.8,112.1 387.9,111.9 388.2,112.2 388.5,112.7 389.4,115.2 390.8,118.2 391.3,118.8 391.6,119.0 392.2,118.7 393.5,117.1 394.1,116.8 394.7,116.9 396.4,117.6 397.1,117.8 400.9,117.5 535.9,117.5" fill="none" stroke="#3c3c3c" stroke-width="1.1" stroke-linejoin="round"/>
<polyline points="314.5,120.8 315.0,120.2 315.1,119.3 315.9,106.5 316.3,103.2 317.1,99.6 317.8,97.0 319.9,91.3 324.9,72.8 332.4,46.9 334.8,39.2 336.7,33.8 338.1,30.5 339.1,28.4 340.6,26.1 342.7,23.5 345.3,21.2 347.1,19.9 348.4,19.6 349.0,19.7 349.6,19.6 350.4,19.6 352.1,20.2 354.5,21.8 356.0,23.5 359.0,28.5 360.6,31.8 364.4,40.0 366.3,45.0 367.8,49.6 369.2,54.4 371.4,64.4 374.9,78.7 377.9,90.3 380.6,100.1 381.6,105.6 383.9,120.3 384.3,122.4 384.8,123.3 385.1,123.2 385.4,122.7 386.3,119.7 387.5,113.2 387.9,112.0 388.2,112.1 388.5,112.7 389.4,115.1 390.8,118.1 391.3,118.8 391.6,119.0 392.2,118.7 393.5,117.1 394.1,116.8 394.7,116.9 396.4,117.6 397.1,117.8 400.9,117.5 532.9,117.5" fill="none" stroke="#4ccf78" stroke-width="1.1" stroke-linejoin="round"/>
<polyline points="314.5,117.5 315.0,117.5 315.1,117.0 316.0,103.5 316.9,99.2 317.7,96.8 319.3,92.9 320.1,90.7 325.2,72.1 332.7,46.9 335.4,38.6 337.2,33.9 338.5,30.9 339.7,28.8 341.5,26.3 343.5,24.3 346.5,21.9 348.0,21.3 349.6,21.2 350.5,21.3 351.6,21.6 354.0,23.1 355.1,24.0 356.3,25.6 359.0,30.0 360.8,33.4 364.4,41.0 366.3,45.9 367.8,50.5 369.2,55.2 371.3,64.4 374.7,78.5 377.9,90.6 380.6,100.3 381.3,104.0 383.4,116.3 384.2,119.3 384.8,120.5 385.1,120.5 385.4,120.3 386.3,118.7 387.5,113.0 387.9,111.9 388.2,112.1 388.5,112.7 389.4,115.1 390.8,118.1 391.3,118.8 391.6,119.0 392.2,118.7 393.5,117.1 394.1,116.8 394.7,116.9 396.4,117.6 397.1,117.8 400.9,117.5 532.1,117.5" fill="none" stroke="#dccb55" stroke-width="1.2" stroke-linejoin="round"/>
<polyline points="314.5,117.5 314.8,114.8 315.3,113.2 317.2,96.6 317.5,95.9 318.1,96.8 318.3,96.8 318.4,96.6 319.5,91.8 319.8,91.1 320.4,90.6 320.7,89.8 321.7,84.7 322.9,81.2 324.1,76.1 325.2,73.0 326.2,69.2 327.4,65.6 333.0,47.2 335.7,39.3 337.6,34.4 339.0,31.5 340.2,29.5 342.0,27.2 343.9,25.2 347.2,22.8 348.7,22.3 349.5,22.3 350.4,22.4" fill="none" stroke="#7d7048" stroke-width="1.3" stroke-linejoin="round"/>
<polyline points="347.5,22.7 348.3,22.4 349.0,22.2 349.9,22.3 350.8,22.6 352.0,23.2 353.7,24.2 355.1,25.5 358.2,30.3 359.9,33.2 363.8,40.9 365.7,45.5 367.4,50.2 368.9,55.2 371.1,64.8 374.6,78.5 377.7,90.5 380.4,100.0 381.2,103.6 383.3,115.8 384.2,119.4" fill="none" stroke="#9c6874" stroke-width="1.4" stroke-linejoin="round"/>
<polyline points="316.0,104.4 316.5,101.9 317.2,98.8 317.8,97.0 319.5,93.2 320.2,91.0 325.0,73.7 333.7,45.3 335.7,39.7 337.8,34.5 339.3,31.3 340.6,29.3 342.1,27.4 343.5,26.0 347.2,23.2 348.3,22.8 349.2,22.6 350.2,22.8 351.4,23.3 354.0,24.8 354.9,25.8 355.8,27.0 359.3,32.5 363.2,40.1" fill="none" stroke="#56363e" stroke-width="1.5" stroke-linejoin="round" stroke-dasharray="1.4 4.2 2 3.5"/>
<polyline points="315.4,113.2 316.0,103.4 316.6,100.1" fill="none" stroke="#c03048" stroke-width="2.0" stroke-linejoin="round"/>
<polyline points="383.6,117.2 384.0,119.0 384.5,120.1 384.9,120.5 385.4,120.3 386.1,119.0 386.4,118.2 387.5,112.9 387.8,112.1 387.9,111.9 388.2,112.2 388.5,112.7 389.4,115.2 390.8,118.2 391.3,118.8 391.6,119.0 392.2,118.7 393.5,117.1 394.1,116.8 394.7,116.9 396.4,117.6 397.1,117.8 400.9,117.5 527.6,117.5" fill="none" stroke="#c98e9a" stroke-width="1.3" stroke-linejoin="round"/>
<polyline points="61.0,254.6 62.5,317.2 63.5,338.7 63.7,342.5 64.0,343.9 64.2,343.6 64.4,341.9 65.3,332.9 66.6,310.8 67.3,303.4 69.0,290.9 69.9,285.5 71.0,280.4 72.4,274.9 73.8,270.4 75.0,267.1 76.5,264.0 78.3,261.1 79.9,259.0 82.6,256.8 84.5,255.6 87.1,254.9 90.0,254.6 124.8,254.6 126.9,253.9 130.9,254.0 136.5,254.6 263.3,254.6" fill="none" stroke="#3c3c3c" stroke-width="1.0" stroke-linejoin="round"/>
<polyline points="61.0,254.6 62.5,317.2 63.5,338.7 63.7,342.5 64.0,343.9 64.2,343.6 64.4,341.9 65.3,332.9 66.6,310.8 67.3,303.4 69.0,290.9 69.9,285.5 71.0,280.4 72.4,274.9 73.8,270.4 75.0,267.1 76.5,264.0 78.3,261.1 79.9,259.0 82.6,256.8 84.5,255.6 87.1,254.9 90.0,254.6 124.8,254.6 126.9,253.9 130.9,254.0 136.5,254.6 263.3,254.6" fill="none" stroke="#2aa8a0" stroke-width="1.0" stroke-linejoin="round"/>
<polyline points="61.0,254.6 62.5,317.2 63.5,338.7 63.7,342.5 64.0,343.9 64.2,343.6 64.4,341.9 65.3,332.9 66.6,310.8 67.2,304.6 68.8,291.8 69.8,286.2 70.9,281.0 72.3,275.4 73.6,270.8 75.0,267.1 76.4,264.3 78.2,261.3 79.8,259.2 82.3,257.0 84.3,255.6 85.2,255.3 86.8,255.0 89.8,254.6 124.8,254.6 126.9,253.9 130.9,254.0 136.5,254.6 255.1,254.6" fill="none" stroke="#dc9a9c" stroke-width="1.3" stroke-linejoin="round"/>
<polyline points="61.5,265.7 61.5,278.4" fill="none" stroke="#5a3030" stroke-width="1.6" stroke-linejoin="round"/>
<polyline points="63.5,338.7 63.7,342.5 64.0,343.9 64.4,342.5 64.8,337.6" fill="none" stroke="#8a4a3a" stroke-width="1.3" stroke-linejoin="round"/>
<polyline points="316.5,299.7 316.9,313.5 318.0,274.1 318.1,279.2 319.3,307.3 319.4,312.0 319.5,306.4" fill="none" stroke="#e0962e" stroke-width="1.4" stroke-linejoin="round"/>
<polyline points="316.5,284.9 316.9,273.9 318.3,310.9 319.4,270.3 319.5,278.3" fill="none" stroke="#2aa8a0" stroke-width="1.1" stroke-linejoin="round"/>
<polyline points="316.5,302.9 317.8,286.7 317.8,278.6 319.1,311.7 319.2,306.2 319.5,299.7" fill="none" stroke="#e07070" stroke-width="1.1" stroke-linejoin="round"/>
<polyline points="316.5,278.0 317.5,321.4 317.6,309.5 318.5,287.6 318.6,283.0 319.4,316.3 319.5,314.1" fill="none" stroke="#3ad070" stroke-width="0.8" stroke-linejoin="round"/>
<polyline points="316.5,299.2 317.1,278.4 318.3,314.5 319.3,276.1 319.4,287.1 319.5,289.8" fill="none" stroke="#a8a040" stroke-width="1.3" stroke-linejoin="round"/>
<polyline points="316.5,292.6 317.0,306.6 317.1,312.8 318.0,278.4 318.9,312.4 319.0,303.0 319.5,294.1" fill="none" stroke="#a8286e" stroke-width="1.3" stroke-linejoin="round"/>
<polyline points="316.5,317.8 317.6,279.4 317.7,288.5 318.7,304.7 318.8,314.0 319.5,292.5" fill="none" stroke="#3c3c3c" stroke-width="1.0" stroke-linejoin="round"/>
<polyline points="316.5,288.1 317.3,305.0 317.4,310.7 318.2,275.9 319.0,317.2 319.1,308.6 319.5,292.7" fill="none" stroke="#e49aa8" stroke-width="1.2" stroke-linejoin="round"/>
<polyline points="316.5,306.5 317.4,286.4 317.5,279.5 318.7,324.3 319.5,299.7" fill="none" stroke="#5656c8" stroke-width="1.05" stroke-linejoin="round"/>
<polyline points="316.5,289.6 316.9,282.7 317.8,304.0 317.9,309.8 319.1,276.3 319.5,291.5" fill="none" stroke="#9a5a32" stroke-width="1.2" stroke-linejoin="round"/>
<polyline points="319.4,295.9 319.8,283.2 319.9,283.5 320.8,310.8 321.6,277.2 322.4,313.1 322.5,304.8" fill="none" stroke="#e49aa8" stroke-width="1.2" stroke-linejoin="round"/>
<polyline points="319.4,270.3 319.5,278.3 320.8,302.3 320.9,306.8 322.0,275.2 322.5,284.1" fill="none" stroke="#2aa8a0" stroke-width="1.1" stroke-linejoin="round"/>
<polyline points="319.4,316.3 320.4,285.4 320.5,279.2 321.5,320.1 322.5,278.1" fill="none" stroke="#3ad070" stroke-width="0.8" stroke-linejoin="round"/>
<polyline points="319.4,309.2 320.5,275.6 321.8,310.0 322.5,291.3" fill="none" stroke="#e0962e" stroke-width="1.4" stroke-linejoin="round"/>
<polyline points="319.4,301.3 320.5,281.9 321.8,308.3 321.9,314.9 322.5,294.6" fill="none" stroke="#e07070" stroke-width="1.1" stroke-linejoin="round"/>
<polyline points="319.4,295.2 319.9,281.8 321.1,313.6 322.2,281.3 322.3,289.4 322.5,291.9" fill="none" stroke="#3c3c3c" stroke-width="1.0" stroke-linejoin="round"/>
<polyline points="319.4,288.5 320.1,309.8 320.2,303.7 321.3,283.7 322.3,303.0 322.4,315.0 322.5,311.6" fill="none" stroke="#9a5a32" stroke-width="1.2" stroke-linejoin="round"/>
<polyline points="319.4,295.6 319.8,289.6 319.9,289.6 320.8,302.2 320.9,306.5 321.7,285.7 321.8,279.2 322.5,306.3" fill="none" stroke="#a8286e" stroke-width="1.3" stroke-linejoin="round"/>
<polyline points="319.4,302.3 320.2,281.2 321.5,319.6 321.6,326.7 322.5,291.4" fill="none" stroke="#5656c8" stroke-width="1.05" stroke-linejoin="round"/>
<polyline points="319.4,288.5 320.3,302.2 320.4,313.7 321.4,277.9 322.5,307.5" fill="none" stroke="#a8a040" stroke-width="1.3" stroke-linejoin="round"/>
<polyline points="322.4,293.8 322.9,279.0 323.0,271.9 324.2,314.1 324.3,305.5 325.4,282.1 325.5,284.1" fill="none" stroke="#e0962e" stroke-width="1.4" stroke-linejoin="round"/>
<polyline points="322.4,294.9 322.8,277.3 322.9,268.7 324.3,333.9 325.5,275.4" fill="none" stroke="#5656c8" stroke-width="1.05" stroke-linejoin="round"/>
<polyline points="322.4,302.9 322.7,313.1 323.6,279.9 324.5,312.5 325.4,280.9 325.5,288.4" fill="none" stroke="#a8286e" stroke-width="1.3" stroke-linejoin="round"/>
<polyline points="322.4,305.1 322.6,308.7 323.6,280.3 324.7,309.4 324.8,303.1 325.5,290.3" fill="none" stroke="#a8a040" stroke-width="1.3" stroke-linejoin="round"/>
<polyline points="322.4,313.1 322.5,304.8 323.3,286.4 324.1,304.4 324.2,312.5 325.0,279.3 325.1,288.6 325.5,297.7" fill="none" stroke="#e49aa8" stroke-width="1.2" stroke-linejoin="round"/>
<polyline points="322.4,282.2 323.4,303.5 323.5,309.7 324.7,270.6 325.5,294.1" fill="none" stroke="#2aa8a0" stroke-width="1.1" stroke-linejoin="round"/>
<polyline points="322.4,297.5 323.1,274.3 323.2,287.0 324.5,304.4 325.5,289.3" fill="none" stroke="#e07070" stroke-width="1.1" stroke-linejoin="round"/>
<polyline points="322.4,282.0 322.5,278.1 322.6,279.6 323.5,319.9 324.5,284.9 324.5,276.6 325.5,322.9" fill="none" stroke="#3ad070" stroke-width="0.8" stroke-linejoin="round"/>
<polyline points="322.4,290.7 323.5,304.9 324.6,287.8 325.5,303.7" fill="none" stroke="#3c3c3c" stroke-width="1.0" stroke-linejoin="round"/>
<polyline points="322.4,315.0 323.5,274.3 324.6,312.5 325.5,282.6" fill="none" stroke="#9a5a32" stroke-width="1.2" stroke-linejoin="round"/>
<polyline points="325.3,292.0 325.8,285.1 327.1,303.7 327.2,313.2 328.5,276.1" fill="none" stroke="#e07070" stroke-width="1.1" stroke-linejoin="round"/>
<polyline points="325.3,288.6 325.7,276.6 326.8,308.2 326.9,304.6 327.9,283.9 328.0,283.7 328.5,292.5" fill="none" stroke="#9a5a32" stroke-width="1.2" stroke-linejoin="round"/>
<polyline points="325.3,293.5 325.8,285.5 326.9,303.3 327.0,310.9 327.9,277.6 328.5,293.9" fill="none" stroke="#a8a040" stroke-width="1.3" stroke-linejoin="round"/>
<polyline points="325.3,289.4 326.0,305.8 326.1,301.8 327.3,279.4 327.4,275.4 328.5,302.8" fill="none" stroke="#2aa8a0" stroke-width="1.1" stroke-linejoin="round"/>
<polyline points="325.3,300.5 325.7,306.8 325.8,316.6 326.9,276.2 327.0,286.5 328.1,311.2 328.5,301.2" fill="none" stroke="#3c3c3c" stroke-width="1.0" stroke-linejoin="round"/>
<polyline points="325.3,294.1 325.9,304.5 326.8,284.7 327.6,308.9 328.4,286.1 328.5,277.9" fill="none" stroke="#e49aa8" stroke-width="1.2" stroke-linejoin="round"/>
<polyline points="325.3,284.0 325.6,271.0 327.0,328.1 327.1,328.3 328.4,273.1 328.5,280.8" fill="none" stroke="#5656c8" stroke-width="1.05" stroke-linejoin="round"/>
<polyline points="325.3,283.9 325.4,282.1 326.8,305.7 327.9,279.2 328.5,292.2" fill="none" stroke="#e0962e" stroke-width="1.4" stroke-linejoin="round"/>
<polyline points="325.3,314.5 325.5,322.9 326.5,277.6 327.6,318.1 328.5,281.7" fill="none" stroke="#3ad070" stroke-width="0.8" stroke-linejoin="round"/>
<polyline points="325.3,284.0 325.4,280.9 325.5,288.4 326.3,303.2 326.4,313.9 327.3,278.4 327.4,286.7 328.2,305.5 328.5,299.6" fill="none" stroke="#a8286e" stroke-width="1.3" stroke-linejoin="round"/>
<polyline points="328.4,285.3 328.5,281.7 328.6,288.5 329.5,310.6 329.6,317.6 330.5,278.2 330.6,278.2 331.4,317.0" fill="none" stroke="#3ad070" stroke-width="0.8" stroke-linejoin="round"/>
<polyline points="328.4,286.1 328.5,277.9 329.3,315.1 330.1,279.1 330.2,285.9 331.0,305.9 331.4,296.3" fill="none" stroke="#e49aa8" stroke-width="1.2" stroke-linejoin="round"/>
<polyline points="328.4,278.8 328.5,276.1 329.8,311.7 329.9,305.2 331.2,284.3 331.4,288.7" fill="none" stroke="#e07070" stroke-width="1.1" stroke-linejoin="round"/>
<polyline points="328.4,303.7 329.3,278.4 330.3,315.5 330.4,314.9 331.4,281.8" fill="none" stroke="#3c3c3c" stroke-width="1.0" stroke-linejoin="round"/>
<polyline points="328.4,290.7 329.1,304.7 330.3,280.4 331.3,309.6 331.4,307.1" fill="none" stroke="#9a5a32" stroke-width="1.2" stroke-linejoin="round"/>
<polyline points="328.4,300.5 328.6,305.0 329.9,279.1 330.0,281.9 331.2,299.7 331.4,298.1" fill="none" stroke="#2aa8a0" stroke-width="1.1" stroke-linejoin="round"/>
<polyline points="328.4,291.0 329.0,311.1 330.2,281.0 331.2,308.7 331.4,302.9" fill="none" stroke="#a8a040" stroke-width="1.3" stroke-linejoin="round"/>
<polyline points="328.4,300.9 329.2,289.6 330.1,302.4 330.2,302.3 331.0,290.3 331.1,282.6 331.4,293.1" fill="none" stroke="#a8286e" stroke-width="1.3" stroke-linejoin="round"/>
<polyline points="328.4,290.0 329.2,311.6 330.4,272.7 331.4,309.8" fill="none" stroke="#e0962e" stroke-width="1.4" stroke-linejoin="round"/>
<polyline points="328.4,273.1 328.5,280.8 329.7,321.0 331.2,279.6 331.4,285.8" fill="none" stroke="#5656c8" stroke-width="1.05" stroke-linejoin="round"/>
<polyline points="331.3,306.5 331.6,316.6 331.7,304.2 332.9,281.2 334.0,305.1 334.5,297.7" fill="none" stroke="#e0962e" stroke-width="1.4" stroke-linejoin="round"/>
<polyline points="331.3,309.6 332.4,279.3 332.5,273.9 333.6,312.9 334.5,283.1" fill="none" stroke="#9a5a32" stroke-width="1.2" stroke-linejoin="round"/>
<polyline points="331.3,282.7 332.6,326.0 334.0,272.3 334.5,292.7" fill="none" stroke="#5656c8" stroke-width="1.05" stroke-linejoin="round"/>
<polyline points="331.3,287.4 332.5,304.0 332.6,311.3 333.8,278.3 333.9,285.4 334.5,293.6" fill="none" stroke="#e07070" stroke-width="1.1" stroke-linejoin="round"/>
<polyline points="331.3,284.6 331.4,281.8 331.5,286.5 332.6,306.5 332.7,310.5 333.7,285.0 333.8,288.3 334.5,297.7" fill="none" stroke="#3c3c3c" stroke-width="1.0" stroke-linejoin="round"/>
<polyline points="331.3,299.5 332.5,281.2 332.6,277.3 333.8,303.8 333.9,298.3 334.5,291.4" fill="none" stroke="#2aa8a0" stroke-width="1.1" stroke-linejoin="round"/>
<polyline points="331.3,305.1 332.3,282.1 333.3,306.8 334.4,286.0 334.5,276.9" fill="none" stroke="#a8a040" stroke-width="1.3" stroke-linejoin="round"/>
<polyline points="331.3,312.7 331.5,321.3 331.6,320.2 332.5,279.6 332.6,289.4 333.7,311.3 334.5,288.1" fill="none" stroke="#3ad070" stroke-width="0.8" stroke-linejoin="round"/>
<polyline points="331.3,298.4 331.8,287.8 331.9,282.6 332.8,310.4 333.6,280.3 334.4,308.9 334.5,307.7" fill="none" stroke="#e49aa8" stroke-width="1.2" stroke-linejoin="round"/>
<polyline points="331.3,290.5 332.0,308.8 332.9,284.4 332.9,288.6 333.8,303.4 333.9,308.1 334.5,291.4" fill="none" stroke="#a8286e" stroke-width="1.3" stroke-linejoin="round"/>
<polyline points="334.3,288.7 334.6,277.6 334.7,285.8 335.7,300.2 335.8,310.1 336.9,280.0 337.0,285.7 337.4,292.6" fill="none" stroke="#9a5a32" stroke-width="1.2" stroke-linejoin="round"/>
<polyline points="334.3,284.6 335.3,329.5 335.4,319.5 336.7,277.1 336.8,277.0 337.4,298.2" fill="none" stroke="#5656c8" stroke-width="1.05" stroke-linejoin="round"/>
<polyline points="334.3,301.0 335.4,281.1 336.5,305.7 336.6,302.0 337.4,289.7" fill="none" stroke="#e0962e" stroke-width="1.4" stroke-linejoin="round"/>
<polyline points="334.3,293.6 335.1,284.2 335.2,273.4 336.2,300.2 336.4,306.6 336.5,306.5 337.4,285.3" fill="none" stroke="#2aa8a0" stroke-width="1.1" stroke-linejoin="round"/>
<polyline points="334.3,290.9 335.3,303.9 336.5,285.7 336.6,281.8 337.4,297.6" fill="none" stroke="#e07070" stroke-width="1.1" stroke-linejoin="round"/>
<polyline points="334.3,293.0 334.6,280.0 335.5,315.5 335.6,305.3 336.5,290.4 336.6,287.1 337.4,302.2" fill="none" stroke="#3ad070" stroke-width="0.8" stroke-linejoin="round"/>
<polyline points="334.3,296.8 334.7,283.6 334.8,288.5 335.6,301.0 335.7,304.9 336.6,286.9 337.4,299.4" fill="none" stroke="#a8286e" stroke-width="1.3" stroke-linejoin="round"/>
<polyline points="334.3,305.8 334.4,308.9 334.5,307.7 335.3,284.1 336.2,305.5 337.0,285.8 337.4,294.2" fill="none" stroke="#e49aa8" stroke-width="1.2" stroke-linejoin="round"/>
<polyline points="334.3,295.1 335.0,306.4 336.2,286.8 337.2,303.1 337.4,299.4" fill="none" stroke="#3c3c3c" stroke-width="1.0" stroke-linejoin="round"/>
<polyline points="334.3,287.6 334.5,276.9 335.4,308.8 336.6,281.6 337.4,299.8" fill="none" stroke="#a8a040" stroke-width="1.3" stroke-linejoin="round"/>
<polyline points="337.3,298.1 337.5,300.7 337.6,305.7 338.5,284.4 338.6,289.2 339.4,298.5 339.5,302.9 340.4,285.3" fill="none" stroke="#a8286e" stroke-width="1.3" stroke-linejoin="round"/>
<polyline points="337.3,290.9 337.7,286.0 337.8,280.1 339.0,305.7 340.2,283.1 340.4,286.9" fill="none" stroke="#e0962e" stroke-width="1.4" stroke-linejoin="round"/>
<polyline points="337.3,300.4 338.4,290.1 338.5,283.7 339.6,303.9 340.4,290.4" fill="none" stroke="#3c3c3c" stroke-width="1.0" stroke-linejoin="round"/>
<polyline points="337.3,300.7 337.7,306.6 338.6,284.4 339.6,303.2 339.6,300.6 340.4,290.8" fill="none" stroke="#3ad070" stroke-width="0.8" stroke-linejoin="round"/>
<polyline points="337.3,295.9 337.9,305.1 337.9,299.2 339.2,289.2 339.3,287.6 340.4,297.2" fill="none" stroke="#e07070" stroke-width="1.1" stroke-linejoin="round"/>
<polyline points="337.3,287.2 337.7,279.7 337.8,286.2 339.0,297.1 339.1,301.4 340.4,285.5" fill="none" stroke="#2aa8a0" stroke-width="1.1" stroke-linejoin="round"/>
<polyline points="337.3,295.2 338.0,319.5 339.4,276.4 340.4,298.9" fill="none" stroke="#5656c8" stroke-width="1.05" stroke-linejoin="round"/>
<polyline points="337.3,297.9 337.7,305.1 338.8,284.2 338.8,288.5 339.8,298.6 340.4,293.6" fill="none" stroke="#a8a040" stroke-width="1.3" stroke-linejoin="round"/>
<polyline points="337.3,292.5 337.9,303.4 338.7,285.1 339.6,300.0 339.6,299.9 340.4,288.0" fill="none" stroke="#e49aa8" stroke-width="1.2" stroke-linejoin="round"/>
<polyline points="337.3,291.2 338.0,300.8 339.2,286.5 340.2,298.8 340.3,302.1 340.4,300.6" fill="none" stroke="#9a5a32" stroke-width="1.2" stroke-linejoin="round"/>
<polyline points="340.3,296.5 340.6,299.4 341.2,294.2" fill="none" stroke="#e07070" stroke-width="1.1" stroke-linejoin="round"/>
<polyline points="340.3,294.4 340.9,289.6 341.0,287.5 341.1,291.0 341.2,290.4" fill="none" stroke="#a8a040" stroke-width="1.3" stroke-linejoin="round"/>
<polyline points="340.3,289.3 340.4,286.8 341.0,295.3 341.2,290.7" fill="none" stroke="#e49aa8" stroke-width="1.2" stroke-linejoin="round"/>
<polyline points="340.3,297.1 340.8,308.4 341.0,303.3 341.1,314.0 341.2,310.9" fill="none" stroke="#5656c8" stroke-width="1.05" stroke-linejoin="round"/>
<polyline points="340.3,286.4 340.4,285.5 341.0,292.9 341.2,289.6" fill="none" stroke="#2aa8a0" stroke-width="1.1" stroke-linejoin="round"/>
<polyline points="340.3,286.8 340.4,285.3 341.0,295.8 341.2,293.4" fill="none" stroke="#a8286e" stroke-width="1.3" stroke-linejoin="round"/>
<polyline points="340.3,285.5 341.1,297.7 341.2,297.1" fill="none" stroke="#e0962e" stroke-width="1.4" stroke-linejoin="round"/>
<polyline points="340.3,291.9 340.5,288.7 340.6,285.3 341.1,293.8 341.2,293.1" fill="none" stroke="#3ad070" stroke-width="0.8" stroke-linejoin="round"/>
<polyline points="340.3,291.9 340.7,285.0 340.8,287.8 341.2,292.2" fill="none" stroke="#3c3c3c" stroke-width="1.0" stroke-linejoin="round"/>
<polyline points="340.3,302.1 341.0,291.1 341.1,297.7 341.2,297.0" fill="none" stroke="#9a5a32" stroke-width="1.2" stroke-linejoin="round"/>
<polyline points="341.0,289.8 341.1,291.4 341.9,297.9 343.0,291.5 344.2,299.1 345.4,294.3 346.5,300.3 347.7,297.0 348.8,301.7 349.7,299.6 349.9,299.3 350.0,299.3 351.1,303.0 351.2,303.1 352.2,301.4 353.4,304.6 354.6,303.5 355.7,306.1 356.9,305.4 358.1,307.6 359.2,307.2 360.4,309.1 361.5,309.0 362.7,310.6 363.8,310.6 364.9,311.9 366.1,312.2 367.3,313.4 368.4,313.7 369.6,314.8 370.7,315.2 371.9,316.2 373.1,316.6 374.2,317.5 375.4,318.0 376.5,318.8 377.7,319.3 378.9,320.0 387.2,324.2 387.3,323.2" fill="none" stroke="#3c3c3c" stroke-width="1.0" stroke-linejoin="round"/>
<polyline points="341.0,295.7 342.0,290.1 343.3,298.7 344.6,293.5 346.0,300.1 347.3,296.5 348.7,301.7 350.0,299.2 351.4,303.3 352.7,301.8 354.0,305.0 355.4,304.1 356.7,306.8 358.1,306.3 359.4,308.5 360.7,308.4 362.1,310.2 363.4,310.3 364.8,311.9 366.1,312.2 367.4,313.5 368.8,313.9 370.1,315.1 371.5,315.6 372.8,316.7 374.1,317.2 375.5,318.2 376.8,318.8 378.2,319.7 379.5,320.3 380.8,321.1 387.2,324.2 387.3,323.1" fill="none" stroke="#e07070" stroke-width="1.1" stroke-linejoin="round"/>
<polyline points="341.0,295.8 341.6,289.8 342.6,298.1 343.5,292.1 344.4,298.9 344.5,299.0 345.4,294.4 346.3,300.1 347.2,296.5 348.1,301.3 349.0,298.5 349.1,298.5 350.0,302.5 350.9,300.2 351.9,303.6 352.8,301.9 353.8,304.8 354.7,303.5 355.6,305.9 355.6,306.0 356.5,305.1 357.4,307.2 358.4,306.6 359.3,308.4 360.3,308.1 361.2,309.6 362.1,309.4 363.1,310.8 364.0,310.7 364.9,312.0 365.8,312.0 366.8,313.1 367.7,313.2 368.6,314.2 369.6,314.4 370.5,315.3 371.4,315.6 372.4,316.4 373.2,316.7 374.2,317.5 375.1,317.8 376.1,318.5 377.0,318.9 377.9,319.5 378.9,319.9 379.8,320.5 387.2,324.3 387.3,323.3" fill="none" stroke="#a8286e" stroke-width="1.3" stroke-linejoin="round"/>
<polyline points="341.0,291.1 341.1,297.7 342.1,290.6 343.3,298.7 344.4,293.4 345.5,299.9 346.6,295.9 347.8,301.1 348.8,298.2 350.0,302.5 351.1,300.4 352.2,303.9 353.3,302.4 354.5,305.3 355.6,304.3 356.7,306.8 357.8,306.1 358.9,308.2 360.0,307.9 361.2,309.6 362.3,309.5 363.4,311.0 364.5,311.1 365.6,312.4 366.7,312.6 367.9,313.8 369.0,314.0 370.1,315.1 371.2,315.5 372.4,316.4 373.4,316.8 374.6,317.7 375.7,318.1 376.8,318.9 377.9,319.4 379.1,320.1 380.1,320.6 381.3,321.3 387.2,324.2 387.3,323.3" fill="none" stroke="#9a5a32" stroke-width="1.2" stroke-linejoin="round"/>
<polyline points="341.0,295.3 341.1,291.6 341.3,289.3 342.1,297.7 342.2,297.8 343.0,291.6 343.9,298.8 344.7,293.7 345.6,299.8 346.4,295.7 347.3,300.9 348.1,297.6 348.2,297.6 349.0,301.8 349.9,299.2 350.7,302.8 351.6,300.8 352.4,303.9 352.5,303.9 353.3,302.3 354.2,305.1 355.0,303.9 355.9,306.2 356.7,305.3 357.6,307.3 358.4,306.7 358.5,306.7 359.3,308.4 360.2,308.0 361.0,309.5 361.9,309.2 362.7,310.5 363.6,310.4 364.5,311.7 365.3,311.6 366.2,312.7 367.0,312.8 367.9,313.8 368.8,313.9 369.6,314.8 370.5,315.0 371.3,315.8 372.2,316.0 373.0,316.8 373.9,317.1 374.8,317.8 375.6,318.1 376.5,318.7 377.3,319.0 378.2,319.7 379.0,320.0 381.6,321.5 387.2,324.2 387.3,323.3" fill="none" stroke="#e49aa8" stroke-width="1.2" stroke-linejoin="round"/>
<polyline points="341.0,295.2 341.1,297.7 342.3,290.7 343.5,298.5 343.6,298.6 344.7,293.7 346.0,300.1 346.8,297.5 347.2,296.5 348.4,301.4 348.5,301.4 349.7,299.0 350.9,303.0 351.7,301.8 352.2,301.3 353.3,304.5 353.4,304.5 354.6,303.5 355.8,306.2 357.1,305.5 358.2,307.7 359.5,307.4 360.7,309.3 362.0,309.3 363.1,310.8 364.4,311.0 365.6,312.4 366.9,312.7 368.1,313.9 369.3,314.3 370.6,315.4 371.8,315.8 373.0,316.8 374.2,317.3 375.5,318.2 376.7,318.7 378.0,319.6 379.1,320.1 380.4,320.8 385.3,323.4 387.2,324.2 387.3,323.2" fill="none" stroke="#e0962e" stroke-width="1.4" stroke-linejoin="round"/>
<polyline points="341.0,287.5 341.1,291.0 341.3,289.3 342.4,298.3 343.5,292.1 344.6,299.2 345.6,294.7 346.7,300.4 347.8,297.1 348.8,301.6 348.9,301.7 349.7,299.7 349.9,299.3 350.0,299.4 351.1,303.1 352.2,301.3 353.2,304.5 354.3,303.2 355.4,305.9 356.4,305.0 357.5,307.2 358.6,306.7 359.7,308.6 360.7,308.4 361.8,310.0 363.0,310.0 364.0,311.4 365.1,311.5 366.2,312.7 367.3,312.9 368.3,314.0 369.4,314.3 370.5,315.3 371.5,315.7 372.6,316.6 373.7,317.0 374.8,317.8 375.8,318.2 377.0,319.0 378.1,319.5 379.1,320.2 385.6,323.5 387.2,324.2 387.3,323.3" fill="none" stroke="#a8a040" stroke-width="1.3" stroke-linejoin="round"/>
<polyline points="341.0,303.3 341.1,314.0 341.3,307.9 341.3,307.8 342.0,282.0 342.6,306.6 343.4,330.8 344.1,303.8 344.7,289.2 345.4,304.2 346.1,329.3 347.5,290.2 348.8,325.3 349.6,307.2 350.3,296.2 350.9,307.3 351.6,325.3 352.3,309.3 353.0,298.5 353.0,298.5 354.4,324.6 355.7,300.7 357.2,322.6 357.8,313.1 357.9,313.3 358.5,301.8 359.9,326.6 360.6,312.4 361.3,305.8 362.6,321.3 362.7,321.3 363.3,314.8 363.4,315.3 364.0,306.7 364.7,316.2 365.4,323.8 366.8,309.7 368.2,324.4 368.9,316.9 369.5,312.7 369.6,312.7 370.2,317.5 370.9,324.7 371.6,318.0 372.3,314.6 373.7,322.8 375.0,316.3 375.7,319.7 376.5,325.4 377.2,320.6 377.8,317.9 379.1,324.5 379.2,324.5 380.6,319.6 381.2,322.5 381.9,326.9 383.3,320.9 384.0,324.3 384.7,326.9 385.3,325.0 385.4,325.2 386.0,322.4 386.1,322.4 386.7,325.7 386.8,325.5 387.2,326.8 387.3,323.3" fill="none" stroke="#5656c8" stroke-width="1.05" stroke-linejoin="round"/>
<polyline points="341.0,292.9 341.1,290.1 341.3,289.2 342.6,298.2 343.8,292.6 345.2,299.6 346.4,295.7 347.8,301.1 348.7,299.1 349.0,298.4 349.1,298.5 350.4,302.7 351.3,301.4 351.7,300.9 353.0,304.3 354.3,303.2 355.6,305.9 355.6,306.0 356.9,305.4 358.2,307.7 359.5,307.4 360.8,309.4 362.1,309.4 363.4,311.0 364.7,311.2 366.0,312.6 367.3,313.0 368.6,314.2 369.9,314.7 371.3,315.8 372.5,316.3 373.9,317.3 375.1,317.8 376.5,318.7 377.7,319.3 379.1,320.1 380.4,320.7 381.6,321.5 387.2,324.3 387.3,323.4" fill="none" stroke="#2aa8a0" stroke-width="1.1" stroke-linejoin="round"/>
<polyline points="341.0,291.3 341.1,293.8 341.6,289.8 342.6,298.0 342.7,298.1 343.7,292.4 344.6,299.4 345.6,294.7 346.6,300.2 346.7,300.3 347.7,297.0 348.7,301.7 349.7,299.0 350.6,302.7 350.7,302.8 351.7,300.9 352.7,304.2 353.7,302.7 354.7,305.3 354.7,305.4 355.7,304.4 356.7,306.8 357.7,306.0 358.7,308.0 358.8,308.0 359.8,307.6 360.7,309.3 361.7,309.1 362.7,310.5 363.8,310.6 364.8,311.9 365.7,311.9 366.7,313.0 367.8,313.3 368.8,314.3 369.8,314.6 370.7,315.5 371.8,315.8 372.8,316.7 373.8,317.0 374.8,317.8 375.8,318.2 376.8,318.9 377.8,319.3 378.8,320.0 379.9,320.5 382.8,322.1 387.2,324.3 387.3,323.4" fill="none" stroke="#3ad070" stroke-width="0.8" stroke-linejoin="round"/>
<polyline points="387.2,324.2 388.0,298.2 388.3,300.8 389.3,311.3 389.7,313.4 389.9,313.9 390.0,314.1 390.2,313.9 390.5,313.2 391.7,308.1 391.9,307.5 392.3,307.2 392.7,307.6 393.9,309.7 394.2,310.0 394.5,310.1 395.0,309.9 396.1,309.0 396.7,308.9 399.0,309.4 401.2,309.2 403.4,309.3 536.1,309.2" fill="none" stroke="#3c3c3c" stroke-width="1.0" stroke-linejoin="round"/>
<polyline points="387.2,326.8 388.0,299.3 388.3,301.7 389.3,311.1 389.7,313.0 389.9,313.5 390.0,313.6 390.2,313.4 390.5,312.8 391.7,308.2 391.9,307.6 392.3,307.4 392.7,307.7 393.9,309.7 394.5,310.0 395.0,309.9 396.1,309.0 396.7,308.9 399.0,309.4 401.2,309.2 403.4,309.3 530.2,309.2" fill="none" stroke="#5656c8" stroke-width="1.05" stroke-linejoin="round"/>
<polyline points="387.2,324.3 388.0,300.4 388.3,302.5 389.3,310.9 389.7,312.6 389.9,313.0 390.0,313.1 390.2,313.0 390.5,312.4 391.7,308.3 391.9,307.8 392.3,307.6 392.7,307.9 393.9,309.6 394.5,309.9 395.0,309.8 396.1,309.1 396.7,308.9 399.0,309.4 401.2,309.2 528.6,309.2" fill="none" stroke="#a8286e" stroke-width="1.3" stroke-linejoin="round"/>
<polyline points="387.2,324.2 388.0,299.3 388.3,301.7 389.3,311.1 389.7,313.0 389.9,313.5 390.0,313.6 390.2,313.4 390.5,312.8 391.7,308.2 391.9,307.6 392.3,307.4 392.7,307.7 393.9,309.7 394.5,310.0 395.0,309.9 396.1,309.0 396.7,308.9 399.0,309.4 401.2,309.2 403.4,309.3 528.6,309.2" fill="none" stroke="#9a5a32" stroke-width="1.2" stroke-linejoin="round"/>
<polyline points="387.2,324.2 388.0,300.4 388.3,302.5 389.3,310.9 389.7,312.6 389.9,313.0 390.0,313.1 390.2,313.0 390.5,312.4 391.7,308.3 391.9,307.8 392.3,307.6 392.7,307.9 393.9,309.6 394.5,309.9 395.0,309.8 396.1,309.1 396.7,308.9 399.0,309.4 401.2,309.2 528.6,309.2" fill="none" stroke="#e49aa8" stroke-width="1.2" stroke-linejoin="round"/>
<polyline points="387.2,324.2 388.0,300.4 388.3,302.5 389.3,310.9 389.7,312.6 389.9,313.0 390.0,313.1 390.2,313.0 390.5,312.4 391.7,308.1 392.1,307.6 392.5,307.6 392.8,307.0 393.0,307.2 393.2,307.6 393.8,310.1 394.2,310.8 394.4,310.6 395.2,308.8 395.5,308.8 396.0,309.6 396.3,309.8 396.6,309.6 397.1,308.6 397.4,308.4 397.6,308.5 398.3,309.7 398.6,309.9 399.7,308.8 400.0,308.9 400.8,309.7 401.0,309.6 401.7,308.9 401.9,308.8 402.2,308.9 402.8,309.5 403.1,309.6 404.2,308.9 405.3,309.5 406.4,309.0 407.6,309.5 408.6,309.0 409.8,309.4 410.9,309.1 412.0,309.4 413.1,309.1 414.3,309.3 415.3,309.1 416.5,309.3 417.6,309.2 418.7,309.3 419.8,309.2 421.0,309.3 422.0,309.2 423.2,309.3 528.6,309.2" fill="none" stroke="#a8a040" stroke-width="1.3" stroke-linejoin="round"/>
<polyline points="387.2,324.2 388.0,298.2 388.3,300.8 389.3,311.3 389.7,313.4 389.9,313.9 390.0,314.1 390.2,313.9 390.5,313.2 391.7,307.8 392.0,307.3 392.2,307.2 392.5,307.2 392.8,306.7 393.1,307.1 393.8,310.2 394.2,311.0 394.4,310.8 395.2,308.9 395.5,308.8 396.0,309.5 396.3,309.7 396.6,309.5 397.1,308.6 397.4,308.3 397.6,308.5 398.3,309.7 398.6,310.0 399.7,308.8 400.0,308.9 400.8,309.6 401.0,309.6 401.7,308.9 401.9,308.8 402.2,308.9 402.8,309.5 403.1,309.6 404.2,308.9 405.3,309.5 406.4,309.0 407.6,309.5 408.6,309.0 409.8,309.4 410.9,309.1 412.0,309.4 413.1,309.1 414.3,309.3 415.3,309.1 416.5,309.3 417.6,309.2 418.7,309.3 419.8,309.2 421.0,309.3 422.0,309.2 423.2,309.3 528.6,309.2" fill="none" stroke="#e0962e" stroke-width="1.4" stroke-linejoin="round"/>
<polyline points="387.2,324.2 388.0,294.9 388.3,298.3 389.3,311.9 389.7,314.7 389.9,315.3 390.0,315.5 390.2,315.3 390.5,314.3 391.7,307.7 391.9,306.9 392.3,306.6 392.7,307.1 393.9,309.9 394.2,310.2 394.5,310.4 395.0,310.2 396.1,309.0 396.7,308.8 398.4,309.3 399.0,309.4 401.2,309.1 403.4,309.3 528.6,309.2" fill="none" stroke="#e07070" stroke-width="1.1" stroke-linejoin="round"/>
<polyline points="387.2,324.3 388.0,302.6 388.3,304.2 389.3,310.5 389.7,311.7 390.0,312.1 390.5,311.6 391.7,308.5 391.9,308.2 392.3,308.0 392.7,308.2 393.9,309.5 394.5,309.8 396.1,309.1 396.7,309.0 399.0,309.3 401.2,309.2 528.6,309.2" fill="none" stroke="#3ad070" stroke-width="0.8" stroke-linejoin="round"/>
<polyline points="387.2,324.3 388.0,301.5 388.3,303.3 389.3,310.7 389.7,312.2 390.0,312.6 390.5,312.0 391.7,308.4 391.9,308.0 392.3,307.8 392.7,308.1 393.9,309.6 394.5,309.8 395.0,309.7 396.1,309.1 396.7,309.0 399.0,309.3 401.2,309.2 532.8,309.2" fill="none" stroke="#2aa8a0" stroke-width="1.1" stroke-linejoin="round"/>
<polyline points="402.1,309.2 528.4,309.2" fill="none" stroke="#a4aa78" stroke-width="1.9" stroke-linejoin="round"/>
<polyline points="316.9,298.2 317.2,236.5 317.6,337.9 318.0,287.2" fill="none" stroke="#504040" stroke-width="1.1" stroke-linejoin="round"/>
<polyline points="317.5,291.6 317.7,243.1 318.1,335.7 318.5,289.4" fill="none" stroke="#c8842e" stroke-width="1.3" stroke-linejoin="round"/>
<polyline points="317.4,333.5 317.5,342.3" fill="none" stroke="#e8b8c0" stroke-width="1.4" stroke-linejoin="round"/>
<line x1="51.30" y1="148.35" x2="51.30" y2="146.15" stroke="#909090" stroke-width="0.9"/>
<line x1="51.30" y1="8.95" x2="51.30" y2="11.15" stroke="#909090" stroke-width="0.9"/>
<line x1="123.13" y1="148.35" x2="123.13" y2="146.15" stroke="#909090" stroke-width="0.9"/>
<line x1="123.13" y1="8.95" x2="123.13" y2="11.15" stroke="#909090" stroke-width="0.9"/>
<line x1="194.97" y1="148.35" x2="194.97" y2="146.15" stroke="#909090" stroke-width="0.9"/>
<line x1="194.97" y1="8.95" x2="194.97" y2="11.15" stroke="#909090" stroke-width="0.9"/>
<line x1="266.80" y1="148.35" x2="266.80" y2="146.15" stroke="#909090" stroke-width="0.9"/>
<line x1="266.80" y1="8.95" x2="266.80" y2="11.15" stroke="#909090" stroke-width="0.9"/>
<line x1="51.30" y1="148.35" x2="53.50" y2="148.35" stroke="#909090" stroke-width="0.9"/>
<line x1="266.80" y1="148.35" x2="264.60" y2="148.35" stroke="#909090" stroke-width="0.9"/>
<line x1="51.30" y1="113.50" x2="53.50" y2="113.50" stroke="#909090" stroke-width="0.9"/>
<line x1="266.80" y1="113.50" x2="264.60" y2="113.50" stroke="#909090" stroke-width="0.9"/>
<line x1="51.30" y1="78.65" x2="53.50" y2="78.65" stroke="#909090" stroke-width="0.9"/>
<line x1="266.80" y1="78.65" x2="264.60" y2="78.65" stroke="#909090" stroke-width="0.9"/>
<line x1="51.30" y1="43.80" x2="53.50" y2="43.80" stroke="#909090" stroke-width="0.9"/>
<line x1="266.80" y1="43.80" x2="264.60" y2="43.80" stroke="#909090" stroke-width="0.9"/>
<line x1="51.30" y1="8.95" x2="53.50" y2="8.95" stroke="#909090" stroke-width="0.9"/>
<line x1="266.80" y1="8.95" x2="264.60" y2="8.95" stroke="#909090" stroke-width="0.9"/>
<line x1="51.30" y1="8.95" x2="266.80" y2="8.95" stroke="#b4b4b4" stroke-width="1.8"/>
<line x1="266.80" y1="8.95" x2="266.80" y2="148.35" stroke="#a0a0a0" stroke-width="1.7"/>
<line x1="51.30" y1="148.35" x2="266.80" y2="148.35" stroke="#8a8a8a" stroke-width="1.6"/>
<line x1="51.30" y1="8.95" x2="51.30" y2="148.35" stroke="#8a8a8a" stroke-width="1.6"/>
<line x1="314.50" y1="144.00" x2="314.50" y2="141.80" stroke="#909090" stroke-width="0.9"/>
<line x1="314.50" y1="11.50" x2="314.50" y2="13.70" stroke="#909090" stroke-width="0.9"/>
<line x1="389.60" y1="144.00" x2="389.60" y2="141.80" stroke="#909090" stroke-width="0.9"/>
<line x1="389.60" y1="11.50" x2="389.60" y2="13.70" stroke="#909090" stroke-width="0.9"/>
<line x1="464.70" y1="144.00" x2="464.70" y2="141.80" stroke="#909090" stroke-width="0.9"/>
<line x1="464.70" y1="11.50" x2="464.70" y2="13.70" stroke="#909090" stroke-width="0.9"/>
<line x1="539.80" y1="144.00" x2="539.80" y2="141.80" stroke="#909090" stroke-width="0.9"/>
<line x1="539.80" y1="11.50" x2="539.80" y2="13.70" stroke="#909090" stroke-width="0.9"/>
<line x1="314.50" y1="144.00" x2="316.70" y2="144.00" stroke="#909090" stroke-width="0.9"/>
<line x1="539.80" y1="144.00" x2="537.60" y2="144.00" stroke="#909090" stroke-width="0.9"/>
<line x1="314.50" y1="117.50" x2="316.70" y2="117.50" stroke="#909090" stroke-width="0.9"/>
<line x1="539.80" y1="117.50" x2="537.60" y2="117.50" stroke="#909090" stroke-width="0.9"/>
<line x1="314.50" y1="91.00" x2="316.70" y2="91.00" stroke="#909090" stroke-width="0.9"/>
<line x1="539.80" y1="91.00" x2="537.60" y2="91.00" stroke="#909090" stroke-width="0.9"/>
<line x1="314.50" y1="64.50" x2="316.70" y2="64.50" stroke="#909090" stroke-width="0.9"/>
<line x1="539.80" y1="64.50" x2="537.60" y2="64.50" stroke="#909090" stroke-width="0.9"/>
<line x1="314.50" y1="38.00" x2="316.70" y2="38.00" stroke="#909090" stroke-width="0.9"/>
<line x1="539.80" y1="38.00" x2="537.60" y2="38.00" stroke="#909090" stroke-width="0.9"/>
<line x1="314.50" y1="11.50" x2="316.70" y2="11.50" stroke="#909090" stroke-width="0.9"/>
<line x1="539.80" y1="11.50" x2="537.60" y2="11.50" stroke="#909090" stroke-width="0.9"/>
<line x1="314.50" y1="11.50" x2="539.80" y2="11.50" stroke="#b4b4b4" stroke-width="1.8"/>
<line x1="539.80" y1="11.50" x2="539.80" y2="144.00" stroke="#a0a0a0" stroke-width="1.7"/>
<line x1="314.50" y1="144.00" x2="539.80" y2="144.00" stroke="#8a8a8a" stroke-width="1.6"/>
<line x1="314.50" y1="11.50" x2="314.50" y2="144.00" stroke="#8a8a8a" stroke-width="1.6"/>
<line x1="61.00" y1="352.80" x2="61.00" y2="350.60" stroke="#909090" stroke-width="0.9"/>
<line x1="61.00" y1="221.10" x2="61.00" y2="223.30" stroke="#909090" stroke-width="0.9"/>
<line x1="129.63" y1="352.80" x2="129.63" y2="350.60" stroke="#909090" stroke-width="0.9"/>
<line x1="129.63" y1="221.10" x2="129.63" y2="223.30" stroke="#909090" stroke-width="0.9"/>
<line x1="198.27" y1="352.80" x2="198.27" y2="350.60" stroke="#909090" stroke-width="0.9"/>
<line x1="198.27" y1="221.10" x2="198.27" y2="223.30" stroke="#909090" stroke-width="0.9"/>
<line x1="266.90" y1="352.80" x2="266.90" y2="350.60" stroke="#909090" stroke-width="0.9"/>
<line x1="266.90" y1="221.10" x2="266.90" y2="223.30" stroke="#909090" stroke-width="0.9"/>
<line x1="61.00" y1="322.60" x2="63.20" y2="322.60" stroke="#909090" stroke-width="0.9"/>
<line x1="266.90" y1="322.60" x2="264.70" y2="322.60" stroke="#909090" stroke-width="0.9"/>
<line x1="61.00" y1="288.60" x2="63.20" y2="288.60" stroke="#909090" stroke-width="0.9"/>
<line x1="266.90" y1="288.60" x2="264.70" y2="288.60" stroke="#909090" stroke-width="0.9"/>
<line x1="61.00" y1="254.60" x2="63.20" y2="254.60" stroke="#909090" stroke-width="0.9"/>
<line x1="266.90" y1="254.60" x2="264.70" y2="254.60" stroke="#909090" stroke-width="0.9"/>
<line x1="61.00" y1="220.60" x2="63.20" y2="220.60" stroke="#909090" stroke-width="0.9"/>
<line x1="266.90" y1="220.60" x2="264.70" y2="220.60" stroke="#909090" stroke-width="0.9"/>
<line x1="61.00" y1="221.10" x2="266.90" y2="221.10" stroke="#b4b4b4" stroke-width="1.8"/>
<line x1="266.90" y1="221.10" x2="266.90" y2="352.80" stroke="#a0a0a0" stroke-width="1.7"/>
<line x1="61.00" y1="352.80" x2="266.90" y2="352.80" stroke="#8a8a8a" stroke-width="1.6"/>
<line x1="61.00" y1="221.10" x2="61.00" y2="352.80" stroke="#8a8a8a" stroke-width="1.6"/>
<line x1="316.50" y1="353.30" x2="316.50" y2="351.10" stroke="#909090" stroke-width="0.9"/>
<line x1="316.50" y1="221.10" x2="316.50" y2="223.30" stroke="#909090" stroke-width="0.9"/>
<line x1="390.97" y1="353.30" x2="390.97" y2="351.10" stroke="#909090" stroke-width="0.9"/>
<line x1="390.97" y1="221.10" x2="390.97" y2="223.30" stroke="#909090" stroke-width="0.9"/>
<line x1="465.43" y1="353.30" x2="465.43" y2="351.10" stroke="#909090" stroke-width="0.9"/>
<line x1="465.43" y1="221.10" x2="465.43" y2="223.30" stroke="#909090" stroke-width="0.9"/>
<line x1="539.90" y1="353.30" x2="539.90" y2="351.10" stroke="#909090" stroke-width="0.9"/>
<line x1="539.90" y1="221.10" x2="539.90" y2="223.30" stroke="#909090" stroke-width="0.9"/>
<line x1="316.50" y1="353.30" x2="318.70" y2="353.30" stroke="#909090" stroke-width="0.9"/>
<line x1="539.90" y1="353.30" x2="537.70" y2="353.30" stroke="#909090" stroke-width="0.9"/>
<line x1="316.50" y1="309.23" x2="318.70" y2="309.23" stroke="#909090" stroke-width="0.9"/>
<line x1="539.90" y1="309.23" x2="537.70" y2="309.23" stroke="#909090" stroke-width="0.9"/>
<line x1="316.50" y1="265.17" x2="318.70" y2="265.17" stroke="#909090" stroke-width="0.9"/>
<line x1="539.90" y1="265.17" x2="537.70" y2="265.17" stroke="#909090" stroke-width="0.9"/>
<line x1="316.50" y1="221.10" x2="318.70" y2="221.10" stroke="#909090" stroke-width="0.9"/>
<line x1="539.90" y1="221.10" x2="537.70" y2="221.10" stroke="#909090" stroke-width="0.9"/>
<line x1="316.50" y1="221.10" x2="539.90" y2="221.10" stroke="#b4b4b4" stroke-width="1.8"/>
<line x1="539.90" y1="221.10" x2="539.90" y2="353.30" stroke="#a0a0a0" stroke-width="1.7"/>
<line x1="316.50" y1="353.30" x2="539.90" y2="353.30" stroke="#8a8a8a" stroke-width="1.6"/>
<line x1="316.50" y1="221.10" x2="316.50" y2="353.30" stroke="#8a8a8a" stroke-width="1.6"/>
<text transform="translate(51.60 166.50) scale(1 1.04)" font-size="12.9" text-anchor="middle" font-family='"Liberation Sans", "Noto Sans CJK SC", sans-serif' fill="#1c1c1c" stroke="#1c1c1c" stroke-width="0.25">0</text>
<text transform="translate(123.43 166.50) scale(1 1.04)" font-size="12.9" text-anchor="middle" font-family='"Liberation Sans", "Noto Sans CJK SC", sans-serif' fill="#1c1c1c" stroke="#1c1c1c" stroke-width="0.25"><tspan font-family='"NanumGothic", "Liberation Sans", sans-serif' font-size="11.9" stroke-width="0.55">1</tspan>0</text>
<text transform="translate(195.27 166.50) scale(1 1.04)" font-size="12.9" text-anchor="middle" font-family='"Liberation Sans", "Noto Sans CJK SC", sans-serif' fill="#1c1c1c" stroke="#1c1c1c" stroke-width="0.25">20</text>
<text transform="translate(267.10 166.50) scale(1 1.04)" font-size="12.9" text-anchor="middle" font-family='"Liberation Sans", "Noto Sans CJK SC", sans-serif' fill="#1c1c1c" stroke="#1c1c1c" stroke-width="0.25">30</text>
<text transform="translate(46.95 153.85) scale(1 1.04)" font-size="12.9" text-anchor="end" font-family='"Liberation Sans", "Noto Sans CJK SC", sans-serif' fill="#1c1c1c" stroke="#1c1c1c" stroke-width="0.25">−<tspan font-family='"NanumGothic", "Liberation Sans", sans-serif' font-size="11.9" stroke-width="0.55">1</tspan>.5</text>
<text transform="translate(46.95 119.00) scale(1 1.04)" font-size="12.9" text-anchor="end" font-family='"Liberation Sans", "Noto Sans CJK SC", sans-serif' fill="#1c1c1c" stroke="#1c1c1c" stroke-width="0.25">−<tspan font-family='"NanumGothic", "Liberation Sans", sans-serif' font-size="11.9" stroke-width="0.55">1</tspan></text>
<text transform="translate(46.95 84.15) scale(1 1.04)" font-size="12.9" text-anchor="end" font-family='"Liberation Sans", "Noto Sans CJK SC", sans-serif' fill="#1c1c1c" stroke="#1c1c1c" stroke-width="0.25">−0.5</text>
<text transform="translate(46.95 49.30) scale(1 1.04)" font-size="12.9" text-anchor="end" font-family='"Liberation Sans", "Noto Sans CJK SC", sans-serif' fill="#1c1c1c" stroke="#1c1c1c" stroke-width="0.25">0</text>
<text transform="translate(46.95 14.45) scale(1 1.04)" font-size="12.9" text-anchor="end" font-family='"Liberation Sans", "Noto Sans CJK SC", sans-serif' fill="#1c1c1c" stroke="#1c1c1c" stroke-width="0.25">0.5</text>
<text transform="translate(314.80 162.10) scale(1 1.04)" font-size="12.9" text-anchor="middle" font-family='"Liberation Sans", "Noto Sans CJK SC", sans-serif' fill="#1c1c1c" stroke="#1c1c1c" stroke-width="0.25">0</text>
<text transform="translate(389.90 162.10) scale(1 1.04)" font-size="12.9" text-anchor="middle" font-family='"Liberation Sans", "Noto Sans CJK SC", sans-serif' fill="#1c1c1c" stroke="#1c1c1c" stroke-width="0.25"><tspan font-family='"NanumGothic", "Liberation Sans", sans-serif' font-size="11.9" stroke-width="0.55">1</tspan>0</text>
<text transform="translate(465.00 162.10) scale(1 1.04)" font-size="12.9" text-anchor="middle" font-family='"Liberation Sans", "Noto Sans CJK SC", sans-serif' fill="#1c1c1c" stroke="#1c1c1c" stroke-width="0.25">20</text>
<text transform="translate(540.10 162.10) scale(1 1.04)" font-size="12.9" text-anchor="middle" font-family='"Liberation Sans", "Noto Sans CJK SC", sans-serif' fill="#1c1c1c" stroke="#1c1c1c" stroke-width="0.25">30</text>
<text transform="translate(309.90 149.35) scale(1 1.04)" font-size="12.9" text-anchor="end" font-family='"Liberation Sans", "Noto Sans CJK SC", sans-serif' fill="#1c1c1c" stroke="#1c1c1c" stroke-width="0.25">−<tspan dx="1.6">2</tspan></text>
<text transform="translate(309.90 122.85) scale(1 1.04)" font-size="12.9" text-anchor="end" font-family='"Liberation Sans", "Noto Sans CJK SC", sans-serif' fill="#1c1c1c" stroke="#1c1c1c" stroke-width="0.25">0</text>
<text transform="translate(309.90 96.35) scale(1 1.04)" font-size="12.9" text-anchor="end" font-family='"Liberation Sans", "Noto Sans CJK SC", sans-serif' fill="#1c1c1c" stroke="#1c1c1c" stroke-width="0.25">2</text>
<text transform="translate(309.90 69.85) scale(1 1.04)" font-size="12.9" text-anchor="end" font-family='"Liberation Sans", "Noto Sans CJK SC", sans-serif' fill="#1c1c1c" stroke="#1c1c1c" stroke-width="0.25">4</text>
<text transform="translate(309.90 43.35) scale(1 1.04)" font-size="12.9" text-anchor="end" font-family='"Liberation Sans", "Noto Sans CJK SC", sans-serif' fill="#1c1c1c" stroke="#1c1c1c" stroke-width="0.25">6</text>
<text transform="translate(309.90 16.85) scale(1 1.04)" font-size="12.9" text-anchor="end" font-family='"Liberation Sans", "Noto Sans CJK SC", sans-serif' fill="#1c1c1c" stroke="#1c1c1c" stroke-width="0.25">8</text>
<text transform="translate(61.30 371.60) scale(1 1.04)" font-size="12.9" text-anchor="middle" font-family='"Liberation Sans", "Noto Sans CJK SC", sans-serif' fill="#1c1c1c" stroke="#1c1c1c" stroke-width="0.25">0</text>
<text transform="translate(129.93 371.60) scale(1 1.04)" font-size="12.9" text-anchor="middle" font-family='"Liberation Sans", "Noto Sans CJK SC", sans-serif' fill="#1c1c1c" stroke="#1c1c1c" stroke-width="0.25"><tspan font-family='"NanumGothic", "Liberation Sans", sans-serif' font-size="11.9" stroke-width="0.55">1</tspan>0</text>
<text transform="translate(198.57 371.60) scale(1 1.04)" font-size="12.9" text-anchor="middle" font-family='"Liberation Sans", "Noto Sans CJK SC", sans-serif' fill="#1c1c1c" stroke="#1c1c1c" stroke-width="0.25">20</text>
<text transform="translate(267.20 371.60) scale(1 1.04)" font-size="12.9" text-anchor="middle" font-family='"Liberation Sans", "Noto Sans CJK SC", sans-serif' fill="#1c1c1c" stroke="#1c1c1c" stroke-width="0.25">30</text>
<text transform="translate(55.60 328.05) scale(1 1.04)" font-size="12.9" text-anchor="end" font-family='"Liberation Sans", "Noto Sans CJK SC", sans-serif' fill="#1c1c1c" stroke="#1c1c1c" stroke-width="0.25"><tspan font-family='"NanumGothic", "Liberation Sans", sans-serif' font-size="11.9" stroke-width="0.55">1</tspan><tspan font-family='"NanumGothic", "Liberation Sans", sans-serif' font-size="11.9" stroke-width="0.55">1</tspan>9.6</text>
<text transform="translate(55.60 294.05) scale(1 1.04)" font-size="12.9" text-anchor="end" font-family='"Liberation Sans", "Noto Sans CJK SC", sans-serif' fill="#1c1c1c" stroke="#1c1c1c" stroke-width="0.25"><tspan font-family='"NanumGothic", "Liberation Sans", sans-serif' font-size="11.9" stroke-width="0.55">1</tspan><tspan font-family='"NanumGothic", "Liberation Sans", sans-serif' font-size="11.9" stroke-width="0.55">1</tspan>9.8</text>
<text transform="translate(55.60 260.05) scale(1 1.04)" font-size="12.9" text-anchor="end" font-family='"Liberation Sans", "Noto Sans CJK SC", sans-serif' fill="#1c1c1c" stroke="#1c1c1c" stroke-width="0.25"><tspan font-family='"NanumGothic", "Liberation Sans", sans-serif' font-size="11.9" stroke-width="0.55">1</tspan>20</text>
<text transform="translate(55.60 226.05) scale(1 1.04)" font-size="12.9" text-anchor="end" font-family='"Liberation Sans", "Noto Sans CJK SC", sans-serif' fill="#1c1c1c" stroke="#1c1c1c" stroke-width="0.25"><tspan font-family='"NanumGothic", "Liberation Sans", sans-serif' font-size="11.9" stroke-width="0.55">1</tspan>20.2</text>
<text transform="translate(316.80 371.30) scale(1 1.04)" font-size="12.9" text-anchor="middle" font-family='"Liberation Sans", "Noto Sans CJK SC", sans-serif' fill="#1c1c1c" stroke="#1c1c1c" stroke-width="0.25">0</text>
<text transform="translate(391.27 371.30) scale(1 1.04)" font-size="12.9" text-anchor="middle" font-family='"Liberation Sans", "Noto Sans CJK SC", sans-serif' fill="#1c1c1c" stroke="#1c1c1c" stroke-width="0.25"><tspan font-family='"NanumGothic", "Liberation Sans", sans-serif' font-size="11.9" stroke-width="0.55">1</tspan>0</text>
<text transform="translate(465.73 371.30) scale(1 1.04)" font-size="12.9" text-anchor="middle" font-family='"Liberation Sans", "Noto Sans CJK SC", sans-serif' fill="#1c1c1c" stroke="#1c1c1c" stroke-width="0.25">20</text>
<text transform="translate(540.20 371.30) scale(1 1.04)" font-size="12.9" text-anchor="middle" font-family='"Liberation Sans", "Noto Sans CJK SC", sans-serif' fill="#1c1c1c" stroke="#1c1c1c" stroke-width="0.25">30</text>
<text transform="translate(311.20 358.60) scale(1 1.04)" font-size="12.9" text-anchor="end" font-family='"Liberation Sans", "Noto Sans CJK SC", sans-serif' fill="#1c1c1c" stroke="#1c1c1c" stroke-width="0.25">−<tspan dx="1.6">2</tspan></text>
<text transform="translate(311.20 314.53) scale(1 1.04)" font-size="12.9" text-anchor="end" font-family='"Liberation Sans", "Noto Sans CJK SC", sans-serif' fill="#1c1c1c" stroke="#1c1c1c" stroke-width="0.25">0</text>
<text transform="translate(311.20 270.47) scale(1 1.04)" font-size="12.9" text-anchor="end" font-family='"Liberation Sans", "Noto Sans CJK SC", sans-serif' fill="#1c1c1c" stroke="#1c1c1c" stroke-width="0.25">2</text>
<text transform="translate(311.20 226.40) scale(1 1.04)" font-size="12.9" text-anchor="end" font-family='"Liberation Sans", "Noto Sans CJK SC", sans-serif' fill="#1c1c1c" stroke="#1c1c1c" stroke-width="0.25">4</text>
<text transform="translate(126.40 185.20) scale(1 1.03)" font-size="13.8" text-anchor="start" font-family='"Liberation Sans", "Noto Sans CJK SC", sans-serif' fill="#1c1c1c" stroke="#1c1c1c" stroke-width="0.25"><tspan x="0" y="0">Time</tspan><tspan x="29.52" y="-0.40" font-size="11.8" font-family='"Liberation Serif", "Noto Serif CJK SC", serif' stroke-width="0.1">（</tspan><tspan x="44.51" y="0">s</tspan><tspan x="53.66" y="-0.40" font-size="11.8" font-family='"Liberation Serif", "Noto Serif CJK SC", serif' stroke-width="0.1">）</tspan></text>
<text transform="translate(395.00 181.20) scale(1 1.03)" font-size="13.8" text-anchor="start" font-family='"Liberation Sans", "Noto Sans CJK SC", sans-serif' fill="#1c1c1c" stroke="#1c1c1c" stroke-width="0.25"><tspan x="0" y="0">Time</tspan><tspan x="29.52" y="-0.40" font-size="11.8" font-family='"Liberation Serif", "Noto Serif CJK SC", serif' stroke-width="0.1">（</tspan><tspan x="44.51" y="0">s</tspan><tspan x="53.66" y="-0.40" font-size="11.8" font-family='"Liberation Serif", "Noto Serif CJK SC", serif' stroke-width="0.1">）</tspan></text>
<text transform="translate(131.40 390.10) scale(1 1.03)" font-size="13.8" text-anchor="start" font-family='"Liberation Sans", "Noto Sans CJK SC", sans-serif' fill="#1c1c1c" stroke="#1c1c1c" stroke-width="0.25"><tspan x="0" y="0">Time</tspan><tspan x="29.52" y="-0.40" font-size="11.8" font-family='"Liberation Serif", "Noto Serif CJK SC", serif' stroke-width="0.1">（</tspan><tspan x="44.51" y="0">s</tspan><tspan x="53.66" y="-0.40" font-size="11.8" font-family='"Liberation Serif", "Noto Serif CJK SC", serif' stroke-width="0.1">）</tspan></text>
<text transform="translate(397.40 390.10) scale(1 1.03)" font-size="13.8" text-anchor="start" font-family='"Liberation Sans", "Noto Sans CJK SC", sans-serif' fill="#1c1c1c" stroke="#1c1c1c" stroke-width="0.25"><tspan x="0" y="0">Time</tspan><tspan x="29.52" y="-0.40" font-size="11.8" font-family='"Liberation Serif", "Noto Serif CJK SC", serif' stroke-width="0.1">（</tspan><tspan x="44.51" y="0">s</tspan><tspan x="53.66" y="-0.40" font-size="11.8" font-family='"Liberation Serif", "Noto Serif CJK SC", serif' stroke-width="0.1">）</tspan></text>
<text transform="translate(18.00 116.36) rotate(-90)" font-size="14.0" text-anchor="start" font-family='"Liberation Sans", "Noto Sans CJK SC", sans-serif' fill="#1c1c1c" stroke="#1c1c1c" stroke-width="0.25"><tspan x="0" y="0">Vy</tspan><tspan x="17.02" y="-0.50" font-size="11.8" font-family='"Liberation Serif", "Noto Serif CJK SC", serif' stroke-width="0.1">（</tspan><tspan x="30.90" y="0">km/h</tspan><tspan x="62.86" y="-0.50" font-size="11.8" font-family='"Liberation Serif", "Noto Serif CJK SC", serif' stroke-width="0.1">）</tspan></text>
<text transform="translate(291.60 109.50) rotate(-90)" font-size="14.0" text-anchor="start" font-family='"Liberation Sans", "Noto Sans CJK SC", sans-serif' fill="#1c1c1c" stroke="#1c1c1c" stroke-width="0.25"><tspan x="0" y="0">Φ</tspan><tspan x="10.32" y="-0.50" font-size="11.8" font-family='"Liberation Serif", "Noto Serif CJK SC", serif' stroke-width="0.1">（</tspan><tspan x="25.70" y="0">deg</tspan><tspan x="50.26" y="-0.50" font-size="11.8" font-family='"Liberation Serif", "Noto Serif CJK SC", serif' stroke-width="0.1">）</tspan></text>
<text transform="translate(16.60 324.76) rotate(-90)" font-size="14.0" text-anchor="start" font-family='"Liberation Sans", "Noto Sans CJK SC", sans-serif' fill="#1c1c1c" stroke="#1c1c1c" stroke-width="0.25"><tspan x="0" y="0">Vx</tspan><tspan x="17.02" y="-0.50" font-size="11.8" font-family='"Liberation Serif", "Noto Serif CJK SC", serif' stroke-width="0.1">（</tspan><tspan x="30.60" y="0">km/h</tspan><tspan x="62.36" y="-0.50" font-size="11.8" font-family='"Liberation Serif", "Noto Serif CJK SC", serif' stroke-width="0.1">）</tspan></text>
<text transform="translate(293.50 317.79) rotate(-90)" font-size="14.0" text-anchor="start" font-family='"Liberation Sans", "Noto Sans CJK SC", sans-serif' fill="#1c1c1c" stroke="#1c1c1c" stroke-width="0.25"><tspan x="0" y="0">δf</tspan><tspan x="12.42" y="-0.50" font-size="11.8" font-family='"Liberation Serif", "Noto Serif CJK SC", serif' stroke-width="0.1">（</tspan><tspan x="25.90" y="0">deg</tspan><tspan x="50.26" y="-0.50" font-size="11.8" font-family='"Liberation Serif", "Noto Serif CJK SC", serif' stroke-width="0.1">）</tspan></text>
<line x1="18.40" y1="413.50" x2="40.10" y2="413.50" stroke="#454545" stroke-width="1.4"/>
<text transform="translate(43.21 421.20) scale(1 1.075)" font-size="20.5" text-anchor="start" font-family='"Liberation Serif", "Noto Serif CJK SC", serif' fill="#101010" stroke="#101010" stroke-width="0.3">Leader</text>
<line x1="120.20" y1="414.40" x2="142.30" y2="414.40" stroke="#6e6ef8" stroke-width="1.4"/>
<text transform="translate(142.81 421.20) scale(1 1.075)" font-size="20.5" text-anchor="start" font-family='"Liberation Serif", "Noto Serif CJK SC", serif' fill="#101010" stroke="#101010" stroke-width="0.3">Follower1</text>
<line x1="234.80" y1="414.70" x2="256.70" y2="414.70" stroke="#22e866" stroke-width="1.4"/>
<text transform="translate(257.41 421.20) scale(1 1.075)" font-size="20.5" text-anchor="start" font-family='"Liberation Serif", "Noto Serif CJK SC", serif' fill="#101010" stroke="#101010" stroke-width="0.3">Follower2</text>
<line x1="346.10" y1="415.00" x2="367.90" y2="415.00" stroke="#ff7272" stroke-width="1.4"/>
<text transform="translate(369.41 421.20) scale(1 1.075)" font-size="20.5" text-anchor="start" font-family='"Liberation Serif", "Noto Serif CJK SC", serif' fill="#101010" stroke="#101010" stroke-width="0.3">Follower3</text></g></svg>
</body></html>
